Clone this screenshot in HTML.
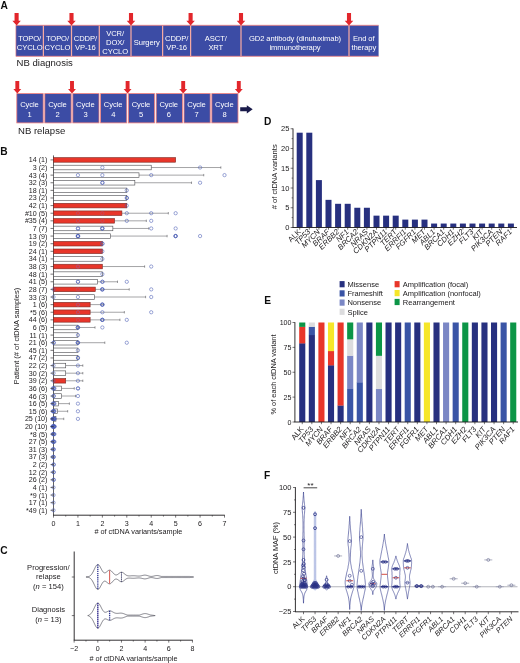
<!DOCTYPE html>
<html lang="en">
<head>
<meta charset="utf-8">
<title>ctDNA variants in neuroblastoma</title>
<style>
html,body{margin:0;padding:0;background:#ffffff;}
body{width:520px;height:663px;overflow:hidden;}
svg{display:block;font-family:"Liberation Sans",Arial,Helvetica,sans-serif;}
</style>
</head>
<body>
<svg width="520" height="663" viewBox="0 0 520 663">
<rect x="0" y="0" width="520" height="663" fill="#ffffff"/>
<g fill="#1c1a1c">
<text x="0.5" y="9.2" font-size="10.2" fill="#0d0d0d" font-weight="bold">A</text>
<text x="0.2" y="154.6" font-size="10.2" fill="#0d0d0d" font-weight="bold">B</text>
<text x="0.3" y="554.2" font-size="10.2" fill="#0d0d0d" font-weight="bold">C</text>
<text x="264.05" y="124.8" font-size="10.2" fill="#0d0d0d" font-weight="bold">D</text>
<text x="264.15" y="303.5" font-size="10.2" fill="#0d0d0d" font-weight="bold">E</text>
<text x="264.05" y="479.3" font-size="10.2" fill="#0d0d0d" font-weight="bold">F</text>
<rect x="15.9" y="25.3" width="362.7" height="31" fill="#3c4ca5"/>
<line x1="43.4" y1="25.3" x2="43.4" y2="56.3" stroke="#f6a9a2" stroke-width="1.25"/>
<line x1="71.5" y1="25.3" x2="71.5" y2="56.3" stroke="#f6a9a2" stroke-width="1.25"/>
<line x1="99.3" y1="25.3" x2="99.3" y2="56.3" stroke="#f6a9a2" stroke-width="1.25"/>
<line x1="131" y1="25.3" x2="131" y2="56.3" stroke="#f6a9a2" stroke-width="1.25"/>
<line x1="162.6" y1="25.3" x2="162.6" y2="56.3" stroke="#f6a9a2" stroke-width="1.25"/>
<line x1="190.6" y1="25.3" x2="190.6" y2="56.3" stroke="#f6a9a2" stroke-width="1.25"/>
<line x1="241" y1="25.3" x2="241" y2="56.3" stroke="#f6a9a2" stroke-width="1.25"/>
<line x1="349" y1="25.3" x2="349" y2="56.3" stroke="#f6a9a2" stroke-width="1.25"/>
<line x1="15.9" y1="25.3" x2="378.6" y2="25.3" stroke="#f3807c" stroke-width="0.8"/>
<line x1="15.9" y1="56.3" x2="378.6" y2="56.3" stroke="#f3807c" stroke-width="0.8"/>
<line x1="15.9" y1="25.3" x2="15.9" y2="56.3" stroke="#f3807c" stroke-width="0.6"/>
<text x="29.65" y="40.5" font-size="7.6" text-anchor="middle" fill="#ffffff" letter-spacing="-0.1">TOPO/</text>
<text x="29.65" y="49.5" font-size="7.6" text-anchor="middle" fill="#ffffff" letter-spacing="-0.1">CYCLO</text>
<text x="57.45" y="40.5" font-size="7.6" text-anchor="middle" fill="#ffffff" letter-spacing="-0.1">TOPO/</text>
<text x="57.45" y="49.5" font-size="7.6" text-anchor="middle" fill="#ffffff" letter-spacing="-0.1">CYCLO</text>
<text x="85.4" y="40.5" font-size="7.6" text-anchor="middle" fill="#ffffff" letter-spacing="-0.1">CDDP/</text>
<text x="85.4" y="49.5" font-size="7.6" text-anchor="middle" fill="#ffffff" letter-spacing="-0.1">VP-16</text>
<text x="115.15" y="36" font-size="7.6" text-anchor="middle" fill="#ffffff" letter-spacing="-0.1">VCR/</text>
<text x="115.15" y="45" font-size="7.6" text-anchor="middle" fill="#ffffff" letter-spacing="-0.1">DOX/</text>
<text x="115.15" y="54" font-size="7.6" text-anchor="middle" fill="#ffffff" letter-spacing="-0.1">CYCLO</text>
<text x="146.8" y="45" font-size="7.6" text-anchor="middle" fill="#ffffff" letter-spacing="-0.1">Surgery</text>
<text x="176.6" y="40.5" font-size="7.6" text-anchor="middle" fill="#ffffff" letter-spacing="-0.1">CDDP/</text>
<text x="176.6" y="49.5" font-size="7.6" text-anchor="middle" fill="#ffffff" letter-spacing="-0.1">VP-16</text>
<text x="215.8" y="40.5" font-size="7.6" text-anchor="middle" fill="#ffffff" letter-spacing="-0.1">ASCT/</text>
<text x="215.8" y="49.5" font-size="7.6" text-anchor="middle" fill="#ffffff" letter-spacing="-0.1">XRT</text>
<text x="295" y="40.5" font-size="7.6" text-anchor="middle" fill="#ffffff" letter-spacing="-0.1">GD2 antibody (dinutuximab)</text>
<text x="295" y="49.5" font-size="7.6" text-anchor="middle" fill="#ffffff" letter-spacing="-0.1">immunotherapy</text>
<text x="363.8" y="40.5" font-size="7.6" text-anchor="middle" fill="#ffffff" letter-spacing="-0.1">End of</text>
<text x="363.8" y="49.5" font-size="7.6" text-anchor="middle" fill="#ffffff" letter-spacing="-0.1">therapy</text>
<polygon points="14.55,13.1 18.65,13.1 18.65,20.7 20.85,20.7 16.6,25.4 12.35,20.7 14.55,20.7" fill="#e2262b"/>
<polygon points="69.45,13.1 73.55,13.1 73.55,20.7 75.75,20.7 71.5,25.4 67.25,20.7 69.45,20.7" fill="#e2262b"/>
<polygon points="128.95,13.1 133.05,13.1 133.05,20.7 135.25,20.7 131,25.4 126.75,20.7 128.95,20.7" fill="#e2262b"/>
<polygon points="188.55,13.1 192.65,13.1 192.65,20.7 194.85,20.7 190.6,25.4 186.35,20.7 188.55,20.7" fill="#e2262b"/>
<polygon points="238.95,13.1 243.05,13.1 243.05,20.7 245.25,20.7 241,25.4 236.75,20.7 238.95,20.7" fill="#e2262b"/>
<polygon points="346.95,13.1 351.05,13.1 351.05,20.7 353.25,20.7 349,25.4 344.75,20.7 346.95,20.7" fill="#e2262b"/>
<text x="16.6" y="66.2" font-size="9.55">NB diagnosis</text>
<rect x="16.8" y="93.6" width="26.4" height="29.3" fill="#3c4ca5" stroke="#f3807c" stroke-width="0.8"/>
<text x="29.4" y="107.4" font-size="7.6" text-anchor="middle" fill="#ffffff" letter-spacing="-0.1">Cycle</text>
<text x="29.6" y="117" font-size="7.6" text-anchor="middle" fill="#ffffff">1</text>
<rect x="44.8" y="93.6" width="26.4" height="29.3" fill="#3c4ca5" stroke="#f3807c" stroke-width="0.8"/>
<text x="57.4" y="107.4" font-size="7.6" text-anchor="middle" fill="#ffffff" letter-spacing="-0.1">Cycle</text>
<text x="57.6" y="117" font-size="7.6" text-anchor="middle" fill="#ffffff">2</text>
<rect x="72.8" y="93.6" width="26.2" height="29.3" fill="#3c4ca5" stroke="#f3807c" stroke-width="0.8"/>
<text x="85.3" y="107.4" font-size="7.6" text-anchor="middle" fill="#ffffff" letter-spacing="-0.1">Cycle</text>
<text x="85.5" y="117" font-size="7.6" text-anchor="middle" fill="#ffffff">3</text>
<rect x="100.6" y="93.6" width="26.2" height="29.3" fill="#3c4ca5" stroke="#f3807c" stroke-width="0.8"/>
<text x="113.1" y="107.4" font-size="7.6" text-anchor="middle" fill="#ffffff" letter-spacing="-0.1">Cycle</text>
<text x="113.3" y="117" font-size="7.6" text-anchor="middle" fill="#ffffff">4</text>
<rect x="128.4" y="93.6" width="26.2" height="29.3" fill="#3c4ca5" stroke="#f3807c" stroke-width="0.8"/>
<text x="140.9" y="107.4" font-size="7.6" text-anchor="middle" fill="#ffffff" letter-spacing="-0.1">Cycle</text>
<text x="141.1" y="117" font-size="7.6" text-anchor="middle" fill="#ffffff">5</text>
<rect x="156.2" y="93.6" width="26.2" height="29.3" fill="#3c4ca5" stroke="#f3807c" stroke-width="0.8"/>
<text x="168.7" y="107.4" font-size="7.6" text-anchor="middle" fill="#ffffff" letter-spacing="-0.1">Cycle</text>
<text x="168.9" y="117" font-size="7.6" text-anchor="middle" fill="#ffffff">6</text>
<rect x="184" y="93.6" width="26.2" height="29.3" fill="#3c4ca5" stroke="#f3807c" stroke-width="0.8"/>
<text x="196.5" y="107.4" font-size="7.6" text-anchor="middle" fill="#ffffff" letter-spacing="-0.1">Cycle</text>
<text x="196.7" y="117" font-size="7.6" text-anchor="middle" fill="#ffffff">7</text>
<rect x="211.8" y="93.6" width="26.2" height="29.3" fill="#3c4ca5" stroke="#f3807c" stroke-width="0.8"/>
<text x="224.3" y="107.4" font-size="7.6" text-anchor="middle" fill="#ffffff" letter-spacing="-0.1">Cycle</text>
<text x="224.5" y="117" font-size="7.6" text-anchor="middle" fill="#ffffff">8</text>
<polygon points="15.35,80.9 19.25,80.9 19.25,89.1 21.25,89.1 17.3,93.5 13.35,89.1 15.35,89.1" fill="#e2262b"/>
<polygon points="70.05,80.9 73.95,80.9 73.95,89.1 75.95,89.1 72,93.5 68.05,89.1 70.05,89.1" fill="#e2262b"/>
<polygon points="125.65,80.9 129.55,80.9 129.55,89.1 131.55,89.1 127.6,93.5 123.65,89.1 125.65,89.1" fill="#e2262b"/>
<polygon points="181.25,80.9 185.15,80.9 185.15,89.1 187.15,89.1 183.2,93.5 179.25,89.1 181.25,89.1" fill="#e2262b"/>
<polygon points="236.85,80.9 240.75,80.9 240.75,89.1 242.75,89.1 238.8,93.5 234.85,89.1 236.85,89.1" fill="#e2262b"/>
<polygon points="240.2,107.3 246.8,107.3 246.8,105.2 252.7,109.3 246.8,113.4 246.8,111.3 240.2,111.3" fill="#1a1b4b"/>
<text x="18" y="134.3" font-size="9.55">NB relapse</text>
<line x1="53.5" y1="155.4" x2="53.5" y2="515.2" stroke="#3a3a3e" stroke-width="0.8"/>
<line x1="151.22" y1="167.52" x2="220.85" y2="167.52" stroke="#4a4a4e" stroke-width="0.5"/>
<line x1="220.85" y1="166.32" x2="220.85" y2="168.72" stroke="#4a4a4e" stroke-width="0.55"/>
<line x1="139" y1="175.13" x2="203.74" y2="175.13" stroke="#4a4a4e" stroke-width="0.5"/>
<line x1="203.74" y1="173.93" x2="203.74" y2="176.33" stroke="#4a4a4e" stroke-width="0.55"/>
<line x1="134.85" y1="182.75" x2="191.53" y2="182.75" stroke="#4a4a4e" stroke-width="0.5"/>
<line x1="191.53" y1="181.55" x2="191.53" y2="183.95" stroke="#4a4a4e" stroke-width="0.55"/>
<line x1="121.9" y1="213.22" x2="168.32" y2="213.22" stroke="#4a4a4e" stroke-width="0.5"/>
<line x1="168.32" y1="212.02" x2="168.32" y2="214.42" stroke="#4a4a4e" stroke-width="0.55"/>
<line x1="114.58" y1="220.84" x2="146.33" y2="220.84" stroke="#4a4a4e" stroke-width="0.5"/>
<line x1="146.33" y1="219.64" x2="146.33" y2="222.04" stroke="#4a4a4e" stroke-width="0.55"/>
<line x1="112.86" y1="228.45" x2="148.78" y2="228.45" stroke="#4a4a4e" stroke-width="0.5"/>
<line x1="148.78" y1="227.25" x2="148.78" y2="229.65" stroke="#4a4a4e" stroke-width="0.55"/>
<line x1="110.42" y1="236.07" x2="167.1" y2="236.07" stroke="#4a4a4e" stroke-width="0.5"/>
<line x1="167.1" y1="234.87" x2="167.1" y2="237.27" stroke="#4a4a4e" stroke-width="0.55"/>
<line x1="102.36" y1="266.54" x2="144.62" y2="266.54" stroke="#4a4a4e" stroke-width="0.5"/>
<line x1="144.62" y1="265.34" x2="144.62" y2="267.74" stroke="#4a4a4e" stroke-width="0.55"/>
<line x1="97.47" y1="281.77" x2="117.51" y2="281.77" stroke="#4a4a4e" stroke-width="0.5"/>
<line x1="117.51" y1="280.57" x2="117.51" y2="282.97" stroke="#4a4a4e" stroke-width="0.55"/>
<line x1="95.28" y1="289.39" x2="129.23" y2="289.39" stroke="#4a4a4e" stroke-width="0.5"/>
<line x1="129.23" y1="288.19" x2="129.23" y2="290.59" stroke="#4a4a4e" stroke-width="0.55"/>
<line x1="94.3" y1="297.01" x2="145.6" y2="297.01" stroke="#4a4a4e" stroke-width="0.5"/>
<line x1="145.6" y1="295.81" x2="145.6" y2="298.21" stroke="#4a4a4e" stroke-width="0.55"/>
<line x1="90.14" y1="304.62" x2="103.58" y2="304.62" stroke="#4a4a4e" stroke-width="0.5"/>
<line x1="103.58" y1="303.42" x2="103.58" y2="305.82" stroke="#4a4a4e" stroke-width="0.55"/>
<line x1="90.14" y1="312.24" x2="124.35" y2="312.24" stroke="#4a4a4e" stroke-width="0.5"/>
<line x1="124.35" y1="311.04" x2="124.35" y2="313.44" stroke="#4a4a4e" stroke-width="0.55"/>
<line x1="90.14" y1="319.86" x2="119.95" y2="319.86" stroke="#4a4a4e" stroke-width="0.5"/>
<line x1="119.95" y1="318.66" x2="119.95" y2="321.06" stroke="#4a4a4e" stroke-width="0.55"/>
<line x1="77.93" y1="327.47" x2="95.03" y2="327.47" stroke="#4a4a4e" stroke-width="0.5"/>
<line x1="95.03" y1="326.27" x2="95.03" y2="328.67" stroke="#4a4a4e" stroke-width="0.55"/>
<line x1="77.93" y1="342.71" x2="104.8" y2="342.71" stroke="#4a4a4e" stroke-width="0.5"/>
<line x1="104.8" y1="341.51" x2="104.8" y2="343.91" stroke="#4a4a4e" stroke-width="0.55"/>
<line x1="65.72" y1="365.56" x2="82.82" y2="365.56" stroke="#4a4a4e" stroke-width="0.5"/>
<line x1="82.82" y1="364.36" x2="82.82" y2="366.76" stroke="#4a4a4e" stroke-width="0.55"/>
<line x1="65.72" y1="373.18" x2="82.82" y2="373.18" stroke="#4a4a4e" stroke-width="0.5"/>
<line x1="82.82" y1="371.98" x2="82.82" y2="374.38" stroke="#4a4a4e" stroke-width="0.55"/>
<line x1="65.72" y1="380.79" x2="82.82" y2="380.79" stroke="#4a4a4e" stroke-width="0.5"/>
<line x1="82.82" y1="379.59" x2="82.82" y2="381.99" stroke="#4a4a4e" stroke-width="0.55"/>
<line x1="61.56" y1="388.41" x2="74.27" y2="388.41" stroke="#4a4a4e" stroke-width="0.5"/>
<line x1="74.27" y1="387.21" x2="74.27" y2="389.61" stroke="#4a4a4e" stroke-width="0.55"/>
<line x1="61.56" y1="396.03" x2="75.49" y2="396.03" stroke="#4a4a4e" stroke-width="0.5"/>
<line x1="75.49" y1="394.83" x2="75.49" y2="397.23" stroke="#4a4a4e" stroke-width="0.55"/>
<line x1="58.39" y1="403.64" x2="69.38" y2="403.64" stroke="#4a4a4e" stroke-width="0.5"/>
<line x1="69.38" y1="402.44" x2="69.38" y2="404.84" stroke="#4a4a4e" stroke-width="0.55"/>
<line x1="57.65" y1="411.26" x2="67.67" y2="411.26" stroke="#4a4a4e" stroke-width="0.5"/>
<line x1="67.67" y1="410.06" x2="67.67" y2="412.46" stroke="#4a4a4e" stroke-width="0.55"/>
<line x1="55.94" y1="418.88" x2="63.76" y2="418.88" stroke="#4a4a4e" stroke-width="0.5"/>
<line x1="63.76" y1="417.68" x2="63.76" y2="420.08" stroke="#4a4a4e" stroke-width="0.55"/>
<rect x="53.5" y="157.6" width="122.15" height="4.6" fill="#e8362a" stroke="#7a2a24" stroke-width="0.6"/>
<rect x="53.5" y="165.22" width="97.72" height="4.6" fill="#ffffff" stroke="#4a4a4e" stroke-width="0.6"/>
<rect x="53.5" y="172.83" width="85.5" height="4.6" fill="#ffffff" stroke="#4a4a4e" stroke-width="0.6"/>
<rect x="53.5" y="180.45" width="81.35" height="4.6" fill="#ffffff" stroke="#4a4a4e" stroke-width="0.6"/>
<rect x="53.5" y="188.07" width="73.29" height="4.6" fill="#ffffff" stroke="#4a4a4e" stroke-width="0.6"/>
<rect x="53.5" y="195.69" width="73.29" height="4.6" fill="#ffffff" stroke="#4a4a4e" stroke-width="0.6"/>
<rect x="53.5" y="203.3" width="73.29" height="4.6" fill="#e8362a" stroke="#7a2a24" stroke-width="0.6"/>
<rect x="53.5" y="210.92" width="68.4" height="4.6" fill="#e8362a" stroke="#7a2a24" stroke-width="0.6"/>
<rect x="53.5" y="218.54" width="61.08" height="4.6" fill="#e8362a" stroke="#7a2a24" stroke-width="0.6"/>
<rect x="53.5" y="226.15" width="59.36" height="4.6" fill="#ffffff" stroke="#4a4a4e" stroke-width="0.6"/>
<rect x="53.5" y="233.77" width="56.92" height="4.6" fill="#ffffff" stroke="#4a4a4e" stroke-width="0.6"/>
<rect x="53.5" y="241.39" width="48.86" height="4.6" fill="#e8362a" stroke="#7a2a24" stroke-width="0.6"/>
<rect x="53.5" y="249" width="48.86" height="4.6" fill="#e8362a" stroke="#7a2a24" stroke-width="0.6"/>
<rect x="53.5" y="256.62" width="48.86" height="4.6" fill="#ffffff" stroke="#4a4a4e" stroke-width="0.6"/>
<rect x="53.5" y="264.24" width="48.86" height="4.6" fill="#e8362a" stroke="#7a2a24" stroke-width="0.6"/>
<rect x="53.5" y="271.85" width="48.86" height="4.6" fill="#ffffff" stroke="#4a4a4e" stroke-width="0.6"/>
<rect x="53.5" y="279.47" width="43.97" height="4.6" fill="#ffffff" stroke="#4a4a4e" stroke-width="0.6"/>
<rect x="53.5" y="287.09" width="41.78" height="4.6" fill="#e8362a" stroke="#7a2a24" stroke-width="0.6"/>
<rect x="53.5" y="294.71" width="40.8" height="4.6" fill="#ffffff" stroke="#4a4a4e" stroke-width="0.6"/>
<rect x="53.5" y="302.32" width="36.64" height="4.6" fill="#e8362a" stroke="#7a2a24" stroke-width="0.6"/>
<rect x="53.5" y="309.94" width="36.64" height="4.6" fill="#e8362a" stroke="#7a2a24" stroke-width="0.6"/>
<rect x="53.5" y="317.56" width="36.64" height="4.6" fill="#e8362a" stroke="#7a2a24" stroke-width="0.6"/>
<rect x="53.5" y="325.17" width="24.43" height="4.6" fill="#ffffff" stroke="#4a4a4e" stroke-width="0.6"/>
<rect x="53.5" y="332.79" width="24.43" height="4.6" fill="#ffffff" stroke="#4a4a4e" stroke-width="0.6"/>
<rect x="53.5" y="340.41" width="24.43" height="4.6" fill="#ffffff" stroke="#4a4a4e" stroke-width="0.6"/>
<rect x="53.5" y="348.03" width="24.43" height="4.6" fill="#ffffff" stroke="#4a4a4e" stroke-width="0.6"/>
<rect x="53.5" y="355.64" width="24.43" height="4.6" fill="#ffffff" stroke="#4a4a4e" stroke-width="0.6"/>
<rect x="53.5" y="363.26" width="12.21" height="4.6" fill="#ffffff" stroke="#4a4a4e" stroke-width="0.6"/>
<rect x="53.5" y="370.88" width="12.21" height="4.6" fill="#ffffff" stroke="#4a4a4e" stroke-width="0.6"/>
<rect x="53.5" y="378.49" width="12.21" height="4.6" fill="#e8362a" stroke="#7a2a24" stroke-width="0.6"/>
<rect x="53.5" y="386.11" width="8.06" height="4.6" fill="#ffffff" stroke="#4a4a4e" stroke-width="0.6"/>
<rect x="53.5" y="393.73" width="8.06" height="4.6" fill="#ffffff" stroke="#4a4a4e" stroke-width="0.6"/>
<rect x="53.5" y="401.34" width="4.89" height="4.6" fill="#ffffff" stroke="#4a4a4e" stroke-width="0.6"/>
<rect x="53.5" y="408.96" width="4.15" height="4.6" fill="#ffffff" stroke="#4a4a4e" stroke-width="0.6"/>
<rect x="53.5" y="416.58" width="2.44" height="4.6" fill="#ffffff" stroke="#4a4a4e" stroke-width="0.6"/>
<text x="47.4" y="162.4" font-size="7.1" text-anchor="end">14 (1)</text>
<line x1="50.5" y1="159.9" x2="53.5" y2="159.9" stroke="#1c1a1c" stroke-width="0.6"/>
<circle cx="102.36" cy="167.52" r="1.65" fill="none" stroke="#4a5cb4" stroke-width="0.55"/>
<circle cx="200.08" cy="167.52" r="1.65" fill="none" stroke="#4a5cb4" stroke-width="0.55"/>
<text x="47.4" y="170.02" font-size="7.1" text-anchor="end">3 (2)</text>
<line x1="50.5" y1="167.52" x2="53.5" y2="167.52" stroke="#1c1a1c" stroke-width="0.6"/>
<circle cx="77.93" cy="175.13" r="1.65" fill="none" stroke="#4a5cb4" stroke-width="0.55"/>
<circle cx="102.36" cy="175.13" r="1.65" fill="none" stroke="#4a5cb4" stroke-width="0.55"/>
<circle cx="151.22" cy="175.13" r="1.65" fill="none" stroke="#4a5cb4" stroke-width="0.55"/>
<circle cx="224.51" cy="175.13" r="1.65" fill="none" stroke="#4a5cb4" stroke-width="0.55"/>
<text x="47.4" y="177.63" font-size="7.1" text-anchor="end">43 (4)</text>
<line x1="50.5" y1="175.13" x2="53.5" y2="175.13" stroke="#1c1a1c" stroke-width="0.6"/>
<circle cx="102.36" cy="182.75" r="1.65" fill="none" stroke="#4a5cb4" stroke-width="0.55"/>
<circle cx="102.47" cy="182.75" r="1.65" fill="none" stroke="#4a5cb4" stroke-width="0.55"/>
<circle cx="200.08" cy="182.75" r="1.65" fill="none" stroke="#4a5cb4" stroke-width="0.55"/>
<text x="47.4" y="185.25" font-size="7.1" text-anchor="end">32 (3)</text>
<line x1="50.5" y1="182.75" x2="53.5" y2="182.75" stroke="#1c1a1c" stroke-width="0.6"/>
<circle cx="126.79" cy="190.37" r="1.65" fill="none" stroke="#4a5cb4" stroke-width="0.55"/>
<text x="47.4" y="192.87" font-size="7.1" text-anchor="end">18 (1)</text>
<line x1="50.5" y1="190.37" x2="53.5" y2="190.37" stroke="#1c1a1c" stroke-width="0.6"/>
<circle cx="126.79" cy="197.99" r="1.65" fill="none" stroke="#4a5cb4" stroke-width="0.55"/>
<circle cx="126.9" cy="197.99" r="1.65" fill="none" stroke="#4a5cb4" stroke-width="0.55"/>
<text x="47.4" y="200.49" font-size="7.1" text-anchor="end">23 (2)</text>
<line x1="50.5" y1="197.99" x2="53.5" y2="197.99" stroke="#1c1a1c" stroke-width="0.6"/>
<circle cx="126.79" cy="205.6" r="1.65" fill="none" stroke="#4a5cb4" stroke-width="0.55"/>
<text x="47.4" y="208.1" font-size="7.1" text-anchor="end">42 (1)</text>
<line x1="50.5" y1="205.6" x2="53.5" y2="205.6" stroke="#1c1a1c" stroke-width="0.6"/>
<circle cx="77.93" cy="213.22" r="1.65" fill="none" stroke="#b0507a" stroke-width="0.55"/>
<circle cx="102.36" cy="213.22" r="1.65" fill="none" stroke="#b0507a" stroke-width="0.55"/>
<circle cx="126.79" cy="213.22" r="1.65" fill="none" stroke="#4a5cb4" stroke-width="0.55"/>
<circle cx="151.22" cy="213.22" r="1.65" fill="none" stroke="#4a5cb4" stroke-width="0.55"/>
<circle cx="175.65" cy="213.22" r="1.65" fill="none" stroke="#4a5cb4" stroke-width="0.55"/>
<text x="47.4" y="215.72" font-size="7.1" text-anchor="end">#10 (5)</text>
<line x1="50.5" y1="213.22" x2="53.5" y2="213.22" stroke="#1c1a1c" stroke-width="0.6"/>
<circle cx="77.93" cy="220.84" r="1.65" fill="none" stroke="#b0507a" stroke-width="0.55"/>
<circle cx="102.36" cy="220.84" r="1.65" fill="none" stroke="#b0507a" stroke-width="0.55"/>
<circle cx="126.79" cy="220.84" r="1.65" fill="none" stroke="#4a5cb4" stroke-width="0.55"/>
<circle cx="151.22" cy="220.84" r="1.65" fill="none" stroke="#4a5cb4" stroke-width="0.55"/>
<text x="47.4" y="223.34" font-size="7.1" text-anchor="end">#35 (4)</text>
<line x1="50.5" y1="220.84" x2="53.5" y2="220.84" stroke="#1c1a1c" stroke-width="0.6"/>
<circle cx="77.93" cy="228.45" r="1.65" fill="none" stroke="#4a5cb4" stroke-width="0.55"/>
<circle cx="78.04" cy="228.45" r="1.65" fill="none" stroke="#4a5cb4" stroke-width="0.55"/>
<circle cx="102.36" cy="228.45" r="1.65" fill="none" stroke="#4a5cb4" stroke-width="0.55"/>
<circle cx="102.47" cy="228.45" r="1.65" fill="none" stroke="#4a5cb4" stroke-width="0.55"/>
<circle cx="102.12" cy="228.45" r="1.65" fill="none" stroke="#4a5cb4" stroke-width="0.55"/>
<circle cx="151.22" cy="228.45" r="1.65" fill="none" stroke="#4a5cb4" stroke-width="0.55"/>
<circle cx="175.65" cy="228.45" r="1.65" fill="none" stroke="#4a5cb4" stroke-width="0.55"/>
<text x="47.4" y="230.95" font-size="7.1" text-anchor="end">7 (7)</text>
<line x1="50.5" y1="228.45" x2="53.5" y2="228.45" stroke="#1c1a1c" stroke-width="0.6"/>
<circle cx="77.93" cy="236.07" r="1.65" fill="none" stroke="#4a5cb4" stroke-width="0.55"/>
<circle cx="78.04" cy="236.07" r="1.65" fill="none" stroke="#4a5cb4" stroke-width="0.55"/>
<circle cx="77.69" cy="236.07" r="1.65" fill="none" stroke="#4a5cb4" stroke-width="0.55"/>
<circle cx="78.25" cy="236.07" r="1.65" fill="none" stroke="#4a5cb4" stroke-width="0.55"/>
<circle cx="175.65" cy="236.07" r="1.65" fill="none" stroke="#4a5cb4" stroke-width="0.55"/>
<circle cx="175.76" cy="236.07" r="1.65" fill="none" stroke="#4a5cb4" stroke-width="0.55"/>
<circle cx="175.41" cy="236.07" r="1.65" fill="none" stroke="#4a5cb4" stroke-width="0.55"/>
<circle cx="200.08" cy="236.07" r="1.65" fill="none" stroke="#4a5cb4" stroke-width="0.55"/>
<text x="47.4" y="238.57" font-size="7.1" text-anchor="end">13 (9)</text>
<line x1="50.5" y1="236.07" x2="53.5" y2="236.07" stroke="#1c1a1c" stroke-width="0.6"/>
<circle cx="102.36" cy="243.69" r="1.65" fill="none" stroke="#4a5cb4" stroke-width="0.55"/>
<circle cx="102.47" cy="243.69" r="1.65" fill="none" stroke="#4a5cb4" stroke-width="0.55"/>
<text x="47.4" y="246.19" font-size="7.1" text-anchor="end">19 (2)</text>
<line x1="50.5" y1="243.69" x2="53.5" y2="243.69" stroke="#1c1a1c" stroke-width="0.6"/>
<circle cx="102.36" cy="251.3" r="1.65" fill="none" stroke="#4a5cb4" stroke-width="0.55"/>
<text x="47.4" y="253.8" font-size="7.1" text-anchor="end">24 (1)</text>
<line x1="50.5" y1="251.3" x2="53.5" y2="251.3" stroke="#1c1a1c" stroke-width="0.6"/>
<circle cx="102.36" cy="258.92" r="1.65" fill="none" stroke="#4a5cb4" stroke-width="0.55"/>
<text x="47.4" y="261.42" font-size="7.1" text-anchor="end">34 (1)</text>
<line x1="50.5" y1="258.92" x2="53.5" y2="258.92" stroke="#1c1a1c" stroke-width="0.6"/>
<circle cx="77.93" cy="266.54" r="1.65" fill="none" stroke="#b0507a" stroke-width="0.55"/>
<circle cx="78.04" cy="266.54" r="1.65" fill="none" stroke="#b0507a" stroke-width="0.55"/>
<circle cx="151.22" cy="266.54" r="1.65" fill="none" stroke="#4a5cb4" stroke-width="0.55"/>
<text x="47.4" y="269.04" font-size="7.1" text-anchor="end">38 (3)</text>
<line x1="50.5" y1="266.54" x2="53.5" y2="266.54" stroke="#1c1a1c" stroke-width="0.6"/>
<circle cx="102.36" cy="274.15" r="1.65" fill="none" stroke="#4a5cb4" stroke-width="0.55"/>
<text x="47.4" y="276.65" font-size="7.1" text-anchor="end">48 (1)</text>
<line x1="50.5" y1="274.15" x2="53.5" y2="274.15" stroke="#1c1a1c" stroke-width="0.6"/>
<circle cx="77.93" cy="281.77" r="1.65" fill="none" stroke="#4a5cb4" stroke-width="0.55"/>
<circle cx="78.04" cy="281.77" r="1.65" fill="none" stroke="#4a5cb4" stroke-width="0.55"/>
<circle cx="102.36" cy="281.77" r="1.65" fill="none" stroke="#4a5cb4" stroke-width="0.55"/>
<circle cx="102.47" cy="281.77" r="1.65" fill="none" stroke="#4a5cb4" stroke-width="0.55"/>
<circle cx="126.79" cy="281.77" r="1.65" fill="none" stroke="#4a5cb4" stroke-width="0.55"/>
<text x="47.4" y="284.27" font-size="7.1" text-anchor="end">41 (5)</text>
<line x1="50.5" y1="281.77" x2="53.5" y2="281.77" stroke="#1c1a1c" stroke-width="0.6"/>
<circle cx="53.5" cy="289.39" r="1.65" fill="none" stroke="#4a5cb4" stroke-width="0.55"/>
<circle cx="77.93" cy="289.39" r="1.65" fill="none" stroke="#b0507a" stroke-width="0.55"/>
<circle cx="102.36" cy="289.39" r="1.65" fill="none" stroke="#4a5cb4" stroke-width="0.55"/>
<circle cx="102.47" cy="289.39" r="1.65" fill="none" stroke="#4a5cb4" stroke-width="0.55"/>
<circle cx="102.12" cy="289.39" r="1.65" fill="none" stroke="#4a5cb4" stroke-width="0.55"/>
<circle cx="151.22" cy="289.39" r="1.65" fill="none" stroke="#4a5cb4" stroke-width="0.55"/>
<text x="47.4" y="291.89" font-size="7.1" text-anchor="end">28 (7)</text>
<line x1="50.5" y1="289.39" x2="53.5" y2="289.39" stroke="#1c1a1c" stroke-width="0.6"/>
<circle cx="53.5" cy="297.01" r="1.65" fill="none" stroke="#4a5cb4" stroke-width="0.55"/>
<circle cx="77.93" cy="297.01" r="1.65" fill="none" stroke="#4a5cb4" stroke-width="0.55"/>
<circle cx="151.22" cy="297.01" r="1.65" fill="none" stroke="#4a5cb4" stroke-width="0.55"/>
<text x="47.4" y="299.51" font-size="7.1" text-anchor="end">33 (3)</text>
<line x1="50.5" y1="297.01" x2="53.5" y2="297.01" stroke="#1c1a1c" stroke-width="0.6"/>
<circle cx="77.93" cy="304.62" r="1.65" fill="none" stroke="#b0507a" stroke-width="0.55"/>
<circle cx="78.04" cy="304.62" r="1.65" fill="none" stroke="#b0507a" stroke-width="0.55"/>
<circle cx="102.36" cy="304.62" r="1.65" fill="none" stroke="#4a5cb4" stroke-width="0.55"/>
<circle cx="102.47" cy="304.62" r="1.65" fill="none" stroke="#4a5cb4" stroke-width="0.55"/>
<circle cx="102.12" cy="304.62" r="1.65" fill="none" stroke="#4a5cb4" stroke-width="0.55"/>
<text x="47.4" y="307.12" font-size="7.1" text-anchor="end">1 (6)</text>
<line x1="50.5" y1="304.62" x2="53.5" y2="304.62" stroke="#1c1a1c" stroke-width="0.6"/>
<circle cx="77.93" cy="312.24" r="1.65" fill="none" stroke="#b0507a" stroke-width="0.55"/>
<circle cx="78.04" cy="312.24" r="1.65" fill="none" stroke="#b0507a" stroke-width="0.55"/>
<circle cx="102.36" cy="312.24" r="1.65" fill="none" stroke="#4a5cb4" stroke-width="0.55"/>
<circle cx="151.22" cy="312.24" r="1.65" fill="none" stroke="#4a5cb4" stroke-width="0.55"/>
<text x="47.4" y="314.74" font-size="7.1" text-anchor="end">*5 (6)</text>
<line x1="50.5" y1="312.24" x2="53.5" y2="312.24" stroke="#1c1a1c" stroke-width="0.6"/>
<circle cx="77.93" cy="319.86" r="1.65" fill="none" stroke="#b0507a" stroke-width="0.55"/>
<circle cx="102.36" cy="319.86" r="1.65" fill="none" stroke="#4a5cb4" stroke-width="0.55"/>
<circle cx="102.47" cy="319.86" r="1.65" fill="none" stroke="#4a5cb4" stroke-width="0.55"/>
<circle cx="102.12" cy="319.86" r="1.65" fill="none" stroke="#4a5cb4" stroke-width="0.55"/>
<circle cx="126.79" cy="319.86" r="1.65" fill="none" stroke="#4a5cb4" stroke-width="0.55"/>
<text x="47.4" y="322.36" font-size="7.1" text-anchor="end">44 (6)</text>
<line x1="50.5" y1="319.86" x2="53.5" y2="319.86" stroke="#1c1a1c" stroke-width="0.6"/>
<circle cx="77.93" cy="327.47" r="1.65" fill="none" stroke="#4a5cb4" stroke-width="0.55"/>
<circle cx="78.04" cy="327.47" r="1.65" fill="none" stroke="#4a5cb4" stroke-width="0.55"/>
<circle cx="77.69" cy="327.47" r="1.65" fill="none" stroke="#4a5cb4" stroke-width="0.55"/>
<circle cx="102.36" cy="327.47" r="1.65" fill="none" stroke="#4a5cb4" stroke-width="0.55"/>
<text x="47.4" y="329.97" font-size="7.1" text-anchor="end">6 (5)</text>
<line x1="50.5" y1="327.47" x2="53.5" y2="327.47" stroke="#1c1a1c" stroke-width="0.6"/>
<circle cx="77.93" cy="335.09" r="1.65" fill="none" stroke="#4a5cb4" stroke-width="0.55"/>
<text x="47.4" y="337.59" font-size="7.1" text-anchor="end">11 (1)</text>
<line x1="50.5" y1="335.09" x2="53.5" y2="335.09" stroke="#1c1a1c" stroke-width="0.6"/>
<circle cx="53.5" cy="342.71" r="1.65" fill="none" stroke="#4a5cb4" stroke-width="0.55"/>
<circle cx="53.81" cy="342.71" r="1.65" fill="none" stroke="#4a5cb4" stroke-width="0.55"/>
<circle cx="77.93" cy="342.71" r="1.65" fill="none" stroke="#4a5cb4" stroke-width="0.55"/>
<circle cx="78.04" cy="342.71" r="1.65" fill="none" stroke="#4a5cb4" stroke-width="0.55"/>
<circle cx="77.69" cy="342.71" r="1.65" fill="none" stroke="#4a5cb4" stroke-width="0.55"/>
<circle cx="126.79" cy="342.71" r="1.65" fill="none" stroke="#4a5cb4" stroke-width="0.55"/>
<text x="47.4" y="345.21" font-size="7.1" text-anchor="end">21 (6)</text>
<line x1="50.5" y1="342.71" x2="53.5" y2="342.71" stroke="#1c1a1c" stroke-width="0.6"/>
<circle cx="77.93" cy="350.33" r="1.65" fill="none" stroke="#4a5cb4" stroke-width="0.55"/>
<text x="47.4" y="352.83" font-size="7.1" text-anchor="end">45 (1)</text>
<line x1="50.5" y1="350.33" x2="53.5" y2="350.33" stroke="#1c1a1c" stroke-width="0.6"/>
<circle cx="77.93" cy="357.94" r="1.65" fill="none" stroke="#4a5cb4" stroke-width="0.55"/>
<circle cx="78.04" cy="357.94" r="1.65" fill="none" stroke="#4a5cb4" stroke-width="0.55"/>
<text x="47.4" y="360.44" font-size="7.1" text-anchor="end">47 (2)</text>
<line x1="50.5" y1="357.94" x2="53.5" y2="357.94" stroke="#1c1a1c" stroke-width="0.6"/>
<circle cx="53.5" cy="365.56" r="1.65" fill="none" stroke="#4a5cb4" stroke-width="0.55"/>
<circle cx="77.93" cy="365.56" r="1.65" fill="none" stroke="#4a5cb4" stroke-width="0.55"/>
<text x="47.4" y="368.06" font-size="7.1" text-anchor="end">22 (2)</text>
<line x1="50.5" y1="365.56" x2="53.5" y2="365.56" stroke="#1c1a1c" stroke-width="0.6"/>
<circle cx="53.5" cy="373.18" r="1.65" fill="none" stroke="#4a5cb4" stroke-width="0.55"/>
<circle cx="77.93" cy="373.18" r="1.65" fill="none" stroke="#4a5cb4" stroke-width="0.55"/>
<text x="47.4" y="375.68" font-size="7.1" text-anchor="end">30 (2)</text>
<line x1="50.5" y1="373.18" x2="53.5" y2="373.18" stroke="#1c1a1c" stroke-width="0.6"/>
<circle cx="53.5" cy="380.79" r="1.65" fill="none" stroke="#4a5cb4" stroke-width="0.55"/>
<circle cx="77.93" cy="380.79" r="1.65" fill="none" stroke="#4a5cb4" stroke-width="0.55"/>
<text x="47.4" y="383.29" font-size="7.1" text-anchor="end">39 (2)</text>
<line x1="50.5" y1="380.79" x2="53.5" y2="380.79" stroke="#1c1a1c" stroke-width="0.6"/>
<circle cx="53.5" cy="388.41" r="1.65" fill="none" stroke="#4a5cb4" stroke-width="0.55"/>
<circle cx="53.81" cy="388.41" r="1.65" fill="none" stroke="#4a5cb4" stroke-width="0.55"/>
<circle cx="52.81" cy="388.41" r="1.65" fill="none" stroke="#4a5cb4" stroke-width="0.55"/>
<circle cx="54.42" cy="388.41" r="1.65" fill="none" stroke="#4a5cb4" stroke-width="0.55"/>
<circle cx="77.93" cy="388.41" r="1.65" fill="none" stroke="#4a5cb4" stroke-width="0.55"/>
<circle cx="78.04" cy="388.41" r="1.65" fill="none" stroke="#4a5cb4" stroke-width="0.55"/>
<text x="47.4" y="390.91" font-size="7.1" text-anchor="end">36 (6)</text>
<line x1="50.5" y1="388.41" x2="53.5" y2="388.41" stroke="#1c1a1c" stroke-width="0.6"/>
<circle cx="53.5" cy="396.03" r="1.65" fill="none" stroke="#4a5cb4" stroke-width="0.55"/>
<circle cx="53.81" cy="396.03" r="1.65" fill="none" stroke="#4a5cb4" stroke-width="0.55"/>
<circle cx="77.93" cy="396.03" r="1.65" fill="none" stroke="#4a5cb4" stroke-width="0.55"/>
<text x="47.4" y="398.53" font-size="7.1" text-anchor="end">46 (3)</text>
<line x1="50.5" y1="396.03" x2="53.5" y2="396.03" stroke="#1c1a1c" stroke-width="0.6"/>
<circle cx="53.5" cy="403.64" r="1.65" fill="none" stroke="#4a5cb4" stroke-width="0.55"/>
<circle cx="53.81" cy="403.64" r="1.65" fill="none" stroke="#4a5cb4" stroke-width="0.55"/>
<circle cx="52.81" cy="403.64" r="1.65" fill="none" stroke="#4a5cb4" stroke-width="0.55"/>
<circle cx="54.42" cy="403.64" r="1.65" fill="none" stroke="#4a5cb4" stroke-width="0.55"/>
<circle cx="77.93" cy="403.64" r="1.65" fill="none" stroke="#4a5cb4" stroke-width="0.55"/>
<text x="47.4" y="406.14" font-size="7.1" text-anchor="end">16 (5)</text>
<line x1="50.5" y1="403.64" x2="53.5" y2="403.64" stroke="#1c1a1c" stroke-width="0.6"/>
<circle cx="53.5" cy="411.26" r="1.65" fill="none" stroke="#4a5cb4" stroke-width="0.55"/>
<circle cx="53.81" cy="411.26" r="1.65" fill="none" stroke="#4a5cb4" stroke-width="0.55"/>
<circle cx="52.81" cy="411.26" r="1.65" fill="none" stroke="#4a5cb4" stroke-width="0.55"/>
<circle cx="54.42" cy="411.26" r="1.65" fill="none" stroke="#4a5cb4" stroke-width="0.55"/>
<circle cx="53.43" cy="411.26" r="1.65" fill="none" stroke="#4a5cb4" stroke-width="0.55"/>
<circle cx="77.93" cy="411.26" r="1.65" fill="none" stroke="#4a5cb4" stroke-width="0.55"/>
<text x="47.4" y="413.76" font-size="7.1" text-anchor="end">15 (6)</text>
<line x1="50.5" y1="411.26" x2="53.5" y2="411.26" stroke="#1c1a1c" stroke-width="0.6"/>
<circle cx="53.5" cy="418.88" r="1.65" fill="none" stroke="#4a5cb4" stroke-width="0.55"/>
<circle cx="53.81" cy="418.88" r="1.65" fill="none" stroke="#4a5cb4" stroke-width="0.55"/>
<circle cx="52.81" cy="418.88" r="1.65" fill="none" stroke="#4a5cb4" stroke-width="0.55"/>
<circle cx="54.42" cy="418.88" r="1.65" fill="none" stroke="#4a5cb4" stroke-width="0.55"/>
<circle cx="53.43" cy="418.88" r="1.65" fill="none" stroke="#4a5cb4" stroke-width="0.55"/>
<circle cx="52.43" cy="418.88" r="1.65" fill="none" stroke="#4a5cb4" stroke-width="0.55"/>
<circle cx="54.04" cy="418.88" r="1.65" fill="none" stroke="#4a5cb4" stroke-width="0.55"/>
<circle cx="53.05" cy="418.88" r="1.65" fill="none" stroke="#4a5cb4" stroke-width="0.55"/>
<circle cx="54.65" cy="418.88" r="1.65" fill="none" stroke="#4a5cb4" stroke-width="0.55"/>
<circle cx="77.93" cy="418.88" r="1.65" fill="none" stroke="#4a5cb4" stroke-width="0.55"/>
<text x="47.4" y="421.38" font-size="7.1" text-anchor="end">25 (10)</text>
<line x1="50.5" y1="418.88" x2="53.5" y2="418.88" stroke="#1c1a1c" stroke-width="0.6"/>
<circle cx="53.5" cy="426.5" r="1.65" fill="none" stroke="#4a5cb4" stroke-width="0.55"/>
<circle cx="53.81" cy="426.5" r="1.65" fill="none" stroke="#4a5cb4" stroke-width="0.55"/>
<circle cx="52.81" cy="426.5" r="1.65" fill="none" stroke="#4a5cb4" stroke-width="0.55"/>
<circle cx="54.42" cy="426.5" r="1.65" fill="none" stroke="#4a5cb4" stroke-width="0.55"/>
<circle cx="53.43" cy="426.5" r="1.65" fill="none" stroke="#4a5cb4" stroke-width="0.55"/>
<circle cx="52.43" cy="426.5" r="1.65" fill="none" stroke="#4a5cb4" stroke-width="0.55"/>
<circle cx="54.04" cy="426.5" r="1.65" fill="none" stroke="#4a5cb4" stroke-width="0.55"/>
<circle cx="53.05" cy="426.5" r="1.65" fill="none" stroke="#4a5cb4" stroke-width="0.55"/>
<circle cx="54.65" cy="426.5" r="1.65" fill="none" stroke="#4a5cb4" stroke-width="0.55"/>
<circle cx="53.66" cy="426.5" r="1.65" fill="none" stroke="#4a5cb4" stroke-width="0.55"/>
<text x="47.4" y="429" font-size="7.1" text-anchor="end">20 (10)</text>
<line x1="50.5" y1="426.5" x2="53.5" y2="426.5" stroke="#1c1a1c" stroke-width="0.6"/>
<circle cx="53.5" cy="434.11" r="1.65" fill="none" stroke="#4a5cb4" stroke-width="0.55"/>
<circle cx="53.81" cy="434.11" r="1.65" fill="none" stroke="#4a5cb4" stroke-width="0.55"/>
<circle cx="52.81" cy="434.11" r="1.65" fill="none" stroke="#4a5cb4" stroke-width="0.55"/>
<circle cx="54.42" cy="434.11" r="1.65" fill="none" stroke="#4a5cb4" stroke-width="0.55"/>
<circle cx="53.43" cy="434.11" r="1.65" fill="none" stroke="#4a5cb4" stroke-width="0.55"/>
<text x="47.4" y="436.61" font-size="7.1" text-anchor="end">*8 (5)</text>
<line x1="50.5" y1="434.11" x2="53.5" y2="434.11" stroke="#1c1a1c" stroke-width="0.6"/>
<circle cx="53.5" cy="441.73" r="1.65" fill="none" stroke="#4a5cb4" stroke-width="0.55"/>
<circle cx="53.81" cy="441.73" r="1.65" fill="none" stroke="#4a5cb4" stroke-width="0.55"/>
<circle cx="52.81" cy="441.73" r="1.65" fill="none" stroke="#4a5cb4" stroke-width="0.55"/>
<circle cx="54.42" cy="441.73" r="1.65" fill="none" stroke="#4a5cb4" stroke-width="0.55"/>
<circle cx="53.43" cy="441.73" r="1.65" fill="none" stroke="#4a5cb4" stroke-width="0.55"/>
<text x="47.4" y="444.23" font-size="7.1" text-anchor="end">27 (5)</text>
<line x1="50.5" y1="441.73" x2="53.5" y2="441.73" stroke="#1c1a1c" stroke-width="0.6"/>
<circle cx="53.5" cy="449.35" r="1.65" fill="none" stroke="#4a5cb4" stroke-width="0.55"/>
<circle cx="53.81" cy="449.35" r="1.65" fill="none" stroke="#4a5cb4" stroke-width="0.55"/>
<circle cx="52.81" cy="449.35" r="1.65" fill="none" stroke="#4a5cb4" stroke-width="0.55"/>
<text x="47.4" y="451.85" font-size="7.1" text-anchor="end">31 (3)</text>
<line x1="50.5" y1="449.35" x2="53.5" y2="449.35" stroke="#1c1a1c" stroke-width="0.6"/>
<circle cx="53.5" cy="456.96" r="1.65" fill="none" stroke="#4a5cb4" stroke-width="0.55"/>
<circle cx="53.81" cy="456.96" r="1.65" fill="none" stroke="#4a5cb4" stroke-width="0.55"/>
<circle cx="52.81" cy="456.96" r="1.65" fill="none" stroke="#4a5cb4" stroke-width="0.55"/>
<text x="47.4" y="459.46" font-size="7.1" text-anchor="end">37 (3)</text>
<line x1="50.5" y1="456.96" x2="53.5" y2="456.96" stroke="#1c1a1c" stroke-width="0.6"/>
<circle cx="53.5" cy="464.58" r="1.65" fill="none" stroke="#4a5cb4" stroke-width="0.55"/>
<circle cx="53.81" cy="464.58" r="1.65" fill="none" stroke="#4a5cb4" stroke-width="0.55"/>
<text x="47.4" y="467.08" font-size="7.1" text-anchor="end">2 (2)</text>
<line x1="50.5" y1="464.58" x2="53.5" y2="464.58" stroke="#1c1a1c" stroke-width="0.6"/>
<circle cx="53.5" cy="472.2" r="1.65" fill="none" stroke="#4a5cb4" stroke-width="0.55"/>
<circle cx="53.81" cy="472.2" r="1.65" fill="none" stroke="#4a5cb4" stroke-width="0.55"/>
<text x="47.4" y="474.7" font-size="7.1" text-anchor="end">12 (2)</text>
<line x1="50.5" y1="472.2" x2="53.5" y2="472.2" stroke="#1c1a1c" stroke-width="0.6"/>
<circle cx="53.5" cy="479.81" r="1.65" fill="none" stroke="#4a5cb4" stroke-width="0.55"/>
<circle cx="53.81" cy="479.81" r="1.65" fill="none" stroke="#4a5cb4" stroke-width="0.55"/>
<text x="47.4" y="482.31" font-size="7.1" text-anchor="end">26 (2)</text>
<line x1="50.5" y1="479.81" x2="53.5" y2="479.81" stroke="#1c1a1c" stroke-width="0.6"/>
<circle cx="53.5" cy="487.43" r="1.65" fill="none" stroke="#4a5cb4" stroke-width="0.55"/>
<text x="47.4" y="489.93" font-size="7.1" text-anchor="end">4 (1)</text>
<line x1="50.5" y1="487.43" x2="53.5" y2="487.43" stroke="#1c1a1c" stroke-width="0.6"/>
<circle cx="53.5" cy="495.05" r="1.65" fill="none" stroke="#4a5cb4" stroke-width="0.55"/>
<text x="47.4" y="497.55" font-size="7.1" text-anchor="end">*9 (1)</text>
<line x1="50.5" y1="495.05" x2="53.5" y2="495.05" stroke="#1c1a1c" stroke-width="0.6"/>
<circle cx="53.5" cy="502.66" r="1.65" fill="none" stroke="#4a5cb4" stroke-width="0.55"/>
<text x="47.4" y="505.16" font-size="7.1" text-anchor="end">17 (1)</text>
<line x1="50.5" y1="502.66" x2="53.5" y2="502.66" stroke="#1c1a1c" stroke-width="0.6"/>
<circle cx="53.5" cy="510.28" r="1.65" fill="none" stroke="#4a5cb4" stroke-width="0.55"/>
<text x="47.4" y="512.78" font-size="7.1" text-anchor="end">*49 (1)</text>
<line x1="50.5" y1="510.28" x2="53.5" y2="510.28" stroke="#1c1a1c" stroke-width="0.6"/>
<line x1="53.05" y1="515.2" x2="224.81" y2="515.2" stroke="#1c1a1c" stroke-width="0.9"/>
<line x1="53.5" y1="515.2" x2="53.5" y2="517.6" stroke="#1c1a1c" stroke-width="0.6"/>
<text x="53.5" y="526.1" font-size="7.1" text-anchor="middle">0</text>
<line x1="65.72" y1="515.2" x2="65.72" y2="516.6" stroke="#1c1a1c" stroke-width="0.55"/>
<line x1="77.93" y1="515.2" x2="77.93" y2="517.6" stroke="#1c1a1c" stroke-width="0.6"/>
<text x="77.93" y="526.1" font-size="7.1" text-anchor="middle">1</text>
<line x1="90.15" y1="515.2" x2="90.15" y2="516.6" stroke="#1c1a1c" stroke-width="0.55"/>
<line x1="102.36" y1="515.2" x2="102.36" y2="517.6" stroke="#1c1a1c" stroke-width="0.6"/>
<text x="102.36" y="526.1" font-size="7.1" text-anchor="middle">2</text>
<line x1="114.58" y1="515.2" x2="114.58" y2="516.6" stroke="#1c1a1c" stroke-width="0.55"/>
<line x1="126.79" y1="515.2" x2="126.79" y2="517.6" stroke="#1c1a1c" stroke-width="0.6"/>
<text x="126.79" y="526.1" font-size="7.1" text-anchor="middle">3</text>
<line x1="139" y1="515.2" x2="139" y2="516.6" stroke="#1c1a1c" stroke-width="0.55"/>
<line x1="151.22" y1="515.2" x2="151.22" y2="517.6" stroke="#1c1a1c" stroke-width="0.6"/>
<text x="151.22" y="526.1" font-size="7.1" text-anchor="middle">4</text>
<line x1="163.44" y1="515.2" x2="163.44" y2="516.6" stroke="#1c1a1c" stroke-width="0.55"/>
<line x1="175.65" y1="515.2" x2="175.65" y2="517.6" stroke="#1c1a1c" stroke-width="0.6"/>
<text x="175.65" y="526.1" font-size="7.1" text-anchor="middle">5</text>
<line x1="187.87" y1="515.2" x2="187.87" y2="516.6" stroke="#1c1a1c" stroke-width="0.55"/>
<line x1="200.08" y1="515.2" x2="200.08" y2="517.6" stroke="#1c1a1c" stroke-width="0.6"/>
<text x="200.08" y="526.1" font-size="7.1" text-anchor="middle">6</text>
<line x1="212.29" y1="515.2" x2="212.29" y2="516.6" stroke="#1c1a1c" stroke-width="0.55"/>
<line x1="224.51" y1="515.2" x2="224.51" y2="517.6" stroke="#1c1a1c" stroke-width="0.6"/>
<text x="224.51" y="526.1" font-size="7.1" text-anchor="middle">7</text>
<text x="138.4" y="533.9" font-size="7.3" text-anchor="middle"># of ctDNA variants/sample</text>
<text x="19.2" y="336" font-size="7.5" text-anchor="middle" transform="rotate(-90 19.2 336)">Patient (# of ctDNA samples)</text>
<path d="M85.97,577 L86.51,576.97 L87.05,576.9 L87.59,576.8 L88.13,576.69 L88.67,576.54 L89.22,576.33 L89.76,576.04 L90.3,575.66 L90.84,575.17 L91.38,574.57 L91.92,573.83 L92.46,572.97 L93,571.99 L93.54,570.91 L94.08,569.77 L94.63,568.62 L95.17,567.51 L95.71,566.49 L96.25,565.64 L96.79,564.99 L97.33,564.6 L97.87,564.49 L98.41,564.66 L98.95,565.11 L99.49,565.78 L100.04,566.65 L100.58,567.63 L101.12,568.67 L101.66,569.7 L102.2,570.65 L102.74,571.47 L103.28,572.12 L103.82,572.58 L104.36,572.82 L104.9,572.86 L105.44,572.71 L105.99,572.41 L106.53,572.01 L107.07,571.54 L107.61,571.08 L108.15,570.67 L108.69,570.35 L109.23,570.18 L109.77,570.16 L110.31,570.31 L110.85,570.62 L111.4,571.07 L111.94,571.62 L112.48,572.23 L113.02,572.86 L113.56,573.46 L114.1,574 L114.64,574.43 L115.18,574.74 L115.72,574.92 L116.26,574.95 L116.81,574.85 L117.35,574.62 L117.89,574.29 L118.43,573.89 L118.97,573.47 L119.51,573.05 L120.05,572.68 L120.59,572.41 L121.13,572.25 L121.67,572.22 L122.21,572.33 L122.76,572.56 L123.3,572.9 L123.84,573.31 L124.38,573.75 L124.92,574.2 L125.46,574.62 L126,574.99 L126.54,575.3 L127.08,575.54 L127.62,575.72 L128.17,575.83 L128.71,575.89 L129.25,575.91 L129.79,575.9 L130.33,575.88 L130.87,575.85 L131.41,575.81 L131.95,575.78 L132.49,575.76 L133.03,575.75 L133.58,575.75 L134.12,575.76 L134.66,575.79 L135.2,575.82 L135.74,575.87 L136.28,575.92 L136.82,575.97 L137.36,576.01 L137.9,576.05 L138.44,576.07 L138.99,576.07 L139.53,576.04 L140.07,575.99 L140.61,575.91 L141.15,575.81 L141.69,575.69 L142.23,575.56 L142.77,575.42 L143.31,575.3 L143.85,575.21 L144.39,575.14 L144.94,575.12 L145.48,575.15 L146.02,575.22 L146.56,575.33 L147.1,575.48 L147.64,575.64 L148.18,575.82 L148.72,575.98 L149.26,576.14 L149.8,576.26 L150.35,576.35 L150.89,576.41 L151.43,576.42 L151.97,576.39 L152.51,576.32 L153.05,576.23 L153.59,576.11 L154.13,575.98 L154.67,575.85 L155.21,575.74 L155.76,575.64 L156.3,575.58 L156.84,575.55 L157.38,575.56 L157.92,575.61 L158.46,575.7 L159,575.82 L159.54,575.96 L160.08,576.1 L160.62,576.25 L161.16,576.39 L161.71,576.45 L162.25,576.45 L162.79,576.45 L163.33,576.45 L163.87,576.45 L164.41,576.45 L164.95,576.45 L165.49,576.45 L166.03,576.45 L166.57,576.45 L167.12,576.45 L167.66,576.45 L168.2,576.45 L168.74,576.45 L169.28,576.45 L169.82,576.45 L170.36,576.45 L170.9,576.45 L171.44,576.45 L171.98,576.45 L172.53,576.45 L173.07,576.45 L173.61,576.45 L174.15,576.45 L174.69,576.45 L175.23,576.45 L175.77,576.45 L176.31,576.45 L176.85,576.45 L177.39,576.45 L177.93,576.45 L178.48,576.45 L179.02,576.45 L179.56,576.45 L180.1,576.45 L180.64,576.45 L181.18,576.45 L181.72,576.45 L182.26,576.45 L182.8,576.45 L183.34,576.45 L183.89,576.45 L184.43,576.45 L184.97,576.45 L185.51,576.45 L186.05,576.45 L186.59,576.45 L187.13,576.45 L187.67,576.45 L188.21,576.45 L188.75,576.45 L189.3,576.45 L189.84,576.45 L190.38,576.5 L190.92,576.58 L191.46,576.66 L192,576.75 L192.54,576.83 L193.08,576.92 L193.62,577 L193.62,577 L193.08,577.08 L192.54,577.17 L192,577.25 L191.46,577.34 L190.92,577.42 L190.38,577.5 L189.84,577.55 L189.3,577.55 L188.75,577.55 L188.21,577.55 L187.67,577.55 L187.13,577.55 L186.59,577.55 L186.05,577.55 L185.51,577.55 L184.97,577.55 L184.43,577.55 L183.89,577.55 L183.34,577.55 L182.8,577.55 L182.26,577.55 L181.72,577.55 L181.18,577.55 L180.64,577.55 L180.1,577.55 L179.56,577.55 L179.02,577.55 L178.48,577.55 L177.93,577.55 L177.39,577.55 L176.85,577.55 L176.31,577.55 L175.77,577.55 L175.23,577.55 L174.69,577.55 L174.15,577.55 L173.61,577.55 L173.07,577.55 L172.53,577.55 L171.98,577.55 L171.44,577.55 L170.9,577.55 L170.36,577.55 L169.82,577.55 L169.28,577.55 L168.74,577.55 L168.2,577.55 L167.66,577.55 L167.12,577.55 L166.57,577.55 L166.03,577.55 L165.49,577.55 L164.95,577.55 L164.41,577.55 L163.87,577.55 L163.33,577.55 L162.79,577.55 L162.25,577.55 L161.71,577.55 L161.16,577.61 L160.62,577.75 L160.08,577.9 L159.54,578.04 L159,578.18 L158.46,578.3 L157.92,578.39 L157.38,578.44 L156.84,578.45 L156.3,578.42 L155.76,578.36 L155.21,578.26 L154.67,578.15 L154.13,578.02 L153.59,577.89 L153.05,577.77 L152.51,577.68 L151.97,577.61 L151.43,577.58 L150.89,577.59 L150.35,577.65 L149.8,577.74 L149.26,577.86 L148.72,578.02 L148.18,578.18 L147.64,578.36 L147.1,578.52 L146.56,578.67 L146.02,578.78 L145.48,578.85 L144.94,578.88 L144.39,578.86 L143.85,578.79 L143.31,578.7 L142.77,578.58 L142.23,578.44 L141.69,578.31 L141.15,578.19 L140.61,578.09 L140.07,578.01 L139.53,577.96 L138.99,577.93 L138.44,577.93 L137.9,577.95 L137.36,577.99 L136.82,578.03 L136.28,578.08 L135.74,578.13 L135.2,578.18 L134.66,578.21 L134.12,578.24 L133.58,578.25 L133.03,578.25 L132.49,578.24 L131.95,578.22 L131.41,578.19 L130.87,578.15 L130.33,578.12 L129.79,578.1 L129.25,578.09 L128.71,578.11 L128.17,578.17 L127.62,578.28 L127.08,578.46 L126.54,578.7 L126,579.01 L125.46,579.38 L124.92,579.8 L124.38,580.25 L123.84,580.69 L123.3,581.1 L122.76,581.44 L122.21,581.67 L121.67,581.78 L121.13,581.75 L120.59,581.59 L120.05,581.32 L119.51,580.95 L118.97,580.53 L118.43,580.11 L117.89,579.71 L117.35,579.38 L116.81,579.15 L116.26,579.05 L115.72,579.08 L115.18,579.26 L114.64,579.57 L114.1,580 L113.56,580.54 L113.02,581.14 L112.48,581.77 L111.94,582.38 L111.4,582.93 L110.85,583.38 L110.31,583.69 L109.77,583.84 L109.23,583.82 L108.69,583.65 L108.15,583.33 L107.61,582.92 L107.07,582.46 L106.53,581.99 L105.99,581.59 L105.44,581.29 L104.9,581.14 L104.36,581.18 L103.82,581.42 L103.28,581.88 L102.74,582.53 L102.2,583.35 L101.66,584.3 L101.12,585.33 L100.58,586.37 L100.04,587.35 L99.49,588.22 L98.95,588.89 L98.41,589.34 L97.87,589.51 L97.33,589.4 L96.79,589.01 L96.25,588.36 L95.71,587.51 L95.17,586.49 L94.63,585.38 L94.08,584.23 L93.54,583.09 L93,582.01 L92.46,581.03 L91.92,580.17 L91.38,579.43 L90.84,578.83 L90.3,578.34 L89.76,577.96 L89.22,577.67 L88.67,577.46 L88.13,577.31 L87.59,577.2 L87.05,577.1 L86.51,577.03 L85.97,577Z" fill="#ffffff" stroke="#333340" stroke-width="0.6" stroke-linejoin="round"/>
<path d="M87.74,615.6 L88.08,615.53 L88.42,615.42 L88.76,615.25 L89.1,615 L89.44,614.81 L89.78,614.62 L90.12,614.39 L90.46,614.12 L90.79,613.8 L91.13,613.44 L91.47,613.03 L91.81,612.57 L92.15,612.05 L92.49,611.49 L92.83,610.88 L93.17,610.23 L93.5,609.54 L93.84,608.83 L94.18,608.1 L94.52,607.38 L94.86,606.66 L95.2,605.97 L95.54,605.32 L95.88,604.72 L96.22,604.19 L96.55,603.75 L96.89,603.4 L97.23,603.16 L97.57,603.02 L97.91,603 L98.25,603.09 L98.59,603.29 L98.93,603.59 L99.27,604 L99.6,604.48 L99.94,605.04 L100.28,605.65 L100.62,606.3 L100.96,606.97 L101.3,607.65 L101.64,608.33 L101.98,608.98 L102.32,609.59 L102.65,610.15 L102.99,610.66 L103.33,611.11 L103.67,611.48 L104.01,611.78 L104.35,612.01 L104.69,612.17 L105.03,612.26 L105.36,612.29 L105.7,612.26 L106.04,612.19 L106.38,612.07 L106.72,611.93 L107.06,611.76 L107.4,611.59 L107.74,611.41 L108.08,611.25 L108.41,611.1 L108.75,610.98 L109.09,610.89 L109.43,610.84 L109.77,610.82 L110.11,610.84 L110.45,610.89 L110.79,610.98 L111.13,611.11 L111.46,611.26 L111.8,611.42 L112.14,611.61 L112.48,611.8 L112.82,612 L113.16,612.19 L113.5,612.38 L113.84,612.55 L114.17,612.72 L114.51,612.86 L114.85,612.99 L115.19,613.1 L115.53,613.19 L115.87,613.26 L116.21,613.31 L116.55,613.35 L116.89,613.37 L117.22,613.37 L117.56,613.37 L117.9,613.35 L118.24,613.32 L118.58,613.29 L118.92,613.26 L119.26,613.23 L119.6,613.19 L119.94,613.17 L120.27,613.15 L120.61,613.14 L120.95,613.14 L121.29,613.16 L121.63,613.19 L121.97,613.23 L122.31,613.3 L122.65,613.37 L122.98,613.46 L123.32,613.57 L123.66,613.68 L124,613.8 L124.34,613.93 L124.68,614.07 L125.02,614.2 L125.36,614.34 L125.7,614.47 L126.03,614.6 L126.37,614.72 L126.71,614.83 L127.05,614.93 L127.39,615.03 L127.73,615.1 L128.07,615.1 L128.41,615.1 L128.75,615.1 L129.08,615.1 L129.42,615.1 L129.76,615.1 L130.1,615.1 L130.44,615.1 L130.78,615.1 L131.12,615.1 L131.46,615.1 L131.79,615.1 L132.13,615.1 L132.47,615.1 L132.81,615.1 L133.15,615.1 L133.49,615.1 L133.83,615.1 L134.17,615.1 L134.51,615.1 L134.84,615.1 L135.18,615.1 L135.52,615.1 L135.86,615.1 L136.2,615.1 L136.54,615.1 L136.88,615.1 L137.22,615.1 L137.56,615.1 L137.89,615.1 L138.23,615.1 L138.57,615.1 L138.91,615.1 L139.25,615.09 L139.59,615.01 L139.93,614.91 L140.27,614.82 L140.6,614.71 L140.94,614.6 L141.28,614.49 L141.62,614.37 L141.96,614.25 L142.3,614.14 L142.64,614.03 L142.98,613.93 L143.32,613.84 L143.65,613.76 L143.99,613.7 L144.33,613.65 L144.67,613.62 L145.01,613.6 L145.35,613.6 L145.69,613.63 L146.03,613.66 L146.37,613.72 L146.7,613.79 L147.04,613.87 L147.38,613.97 L147.72,614.07 L148.06,614.18 L148.4,614.29 L148.74,614.41 L149.08,614.53 L149.42,614.64 L149.75,614.75 L150.09,614.85 L150.43,614.95 L150.77,615.04 L151.11,615.1 L151.45,615.1 L151.79,615.12 L152.13,615.17 L152.46,615.22 L152.8,615.27 L153.14,615.31 L153.48,615.36 L153.82,615.41 L154.16,615.46 L154.5,615.5 L154.84,615.55 L155.18,615.6 L155.18,615.6 L154.84,615.65 L154.5,615.7 L154.16,615.74 L153.82,615.79 L153.48,615.84 L153.14,615.89 L152.8,615.93 L152.46,615.98 L152.13,616.03 L151.79,616.08 L151.45,616.1 L151.11,616.1 L150.77,616.16 L150.43,616.25 L150.09,616.35 L149.75,616.45 L149.42,616.56 L149.08,616.67 L148.74,616.79 L148.4,616.91 L148.06,617.02 L147.72,617.13 L147.38,617.23 L147.04,617.33 L146.7,617.41 L146.37,617.48 L146.03,617.54 L145.69,617.57 L145.35,617.6 L145.01,617.6 L144.67,617.58 L144.33,617.55 L143.99,617.5 L143.65,617.44 L143.32,617.36 L142.98,617.27 L142.64,617.17 L142.3,617.06 L141.96,616.95 L141.62,616.83 L141.28,616.71 L140.94,616.6 L140.6,616.49 L140.27,616.38 L139.93,616.29 L139.59,616.19 L139.25,616.11 L138.91,616.1 L138.57,616.1 L138.23,616.1 L137.89,616.1 L137.56,616.1 L137.22,616.1 L136.88,616.1 L136.54,616.1 L136.2,616.1 L135.86,616.1 L135.52,616.1 L135.18,616.1 L134.84,616.1 L134.51,616.1 L134.17,616.1 L133.83,616.1 L133.49,616.1 L133.15,616.1 L132.81,616.1 L132.47,616.1 L132.13,616.1 L131.79,616.1 L131.46,616.1 L131.12,616.1 L130.78,616.1 L130.44,616.1 L130.1,616.1 L129.76,616.1 L129.42,616.1 L129.08,616.1 L128.75,616.1 L128.41,616.1 L128.07,616.1 L127.73,616.1 L127.39,616.17 L127.05,616.27 L126.71,616.37 L126.37,616.48 L126.03,616.6 L125.7,616.73 L125.36,616.86 L125.02,617 L124.68,617.13 L124.34,617.27 L124,617.4 L123.66,617.52 L123.32,617.63 L122.98,617.74 L122.65,617.83 L122.31,617.9 L121.97,617.97 L121.63,618.01 L121.29,618.04 L120.95,618.06 L120.61,618.06 L120.27,618.05 L119.94,618.03 L119.6,618.01 L119.26,617.97 L118.92,617.94 L118.58,617.91 L118.24,617.88 L117.9,617.85 L117.56,617.83 L117.22,617.83 L116.89,617.83 L116.55,617.85 L116.21,617.89 L115.87,617.94 L115.53,618.01 L115.19,618.1 L114.85,618.21 L114.51,618.34 L114.17,618.48 L113.84,618.65 L113.5,618.82 L113.16,619.01 L112.82,619.2 L112.48,619.4 L112.14,619.59 L111.8,619.78 L111.46,619.94 L111.13,620.09 L110.79,620.22 L110.45,620.31 L110.11,620.36 L109.77,620.38 L109.43,620.36 L109.09,620.31 L108.75,620.22 L108.41,620.1 L108.08,619.95 L107.74,619.79 L107.4,619.61 L107.06,619.44 L106.72,619.27 L106.38,619.13 L106.04,619.01 L105.7,618.94 L105.36,618.91 L105.03,618.94 L104.69,619.03 L104.35,619.19 L104.01,619.42 L103.67,619.72 L103.33,620.09 L102.99,620.54 L102.65,621.05 L102.32,621.61 L101.98,622.22 L101.64,622.87 L101.3,623.55 L100.96,624.23 L100.62,624.9 L100.28,625.55 L99.94,626.16 L99.6,626.72 L99.27,627.2 L98.93,627.61 L98.59,627.91 L98.25,628.11 L97.91,628.2 L97.57,628.18 L97.23,628.04 L96.89,627.8 L96.55,627.45 L96.22,627.01 L95.88,626.48 L95.54,625.88 L95.2,625.23 L94.86,624.54 L94.52,623.82 L94.18,623.1 L93.84,622.37 L93.5,621.66 L93.17,620.97 L92.83,620.32 L92.49,619.71 L92.15,619.15 L91.81,618.63 L91.47,618.17 L91.13,617.76 L90.79,617.4 L90.46,617.08 L90.12,616.81 L89.78,616.58 L89.44,616.39 L89.1,616.2 L88.76,615.95 L88.42,615.78 L88.08,615.67 L87.74,615.6Z" fill="#ffffff" stroke="#333340" stroke-width="0.6" stroke-linejoin="round"/>
<line x1="97.8" y1="564.5" x2="97.8" y2="589.5" stroke="#2f3690" stroke-width="1.3" stroke-dasharray="1.3 0.8"/>
<line x1="109.63" y1="570.37" x2="109.63" y2="583.63" stroke="#d4443a" stroke-width="0.9"/>
<line x1="121.46" y1="572.23" x2="121.46" y2="581.77" stroke="#30325e" stroke-width="1.0" stroke-dasharray="1.3 0.8"/>
<line x1="97.8" y1="603" x2="97.8" y2="628.2" stroke="#3b3392" stroke-width="1.4" stroke-dasharray="1.5 0.5"/>
<line x1="109.63" y1="610.83" x2="109.63" y2="620.37" stroke="#2f3690" stroke-width="1.3" stroke-dasharray="1.3 0.8"/>
<line x1="74.2" y1="551.5" x2="74.2" y2="640.2" stroke="#1c1a1c" stroke-width="0.9"/>
<line x1="73.75" y1="640.2" x2="192.74" y2="640.2" stroke="#1c1a1c" stroke-width="0.9"/>
<line x1="71.8" y1="577" x2="74.2" y2="577" stroke="#1c1a1c" stroke-width="0.6"/>
<line x1="71.8" y1="615.6" x2="74.2" y2="615.6" stroke="#1c1a1c" stroke-width="0.6"/>
<line x1="74.14" y1="640.2" x2="74.14" y2="642.6" stroke="#1c1a1c" stroke-width="0.6"/>
<text x="74.14" y="651.4" font-size="7.1" text-anchor="middle">−2</text>
<line x1="85.97" y1="640.2" x2="85.97" y2="641.6" stroke="#1c1a1c" stroke-width="0.55"/>
<line x1="97.8" y1="640.2" x2="97.8" y2="642.6" stroke="#1c1a1c" stroke-width="0.6"/>
<text x="97.8" y="651.4" font-size="7.1" text-anchor="middle">0</text>
<line x1="109.63" y1="640.2" x2="109.63" y2="641.6" stroke="#1c1a1c" stroke-width="0.55"/>
<line x1="121.46" y1="640.2" x2="121.46" y2="642.6" stroke="#1c1a1c" stroke-width="0.6"/>
<text x="121.46" y="651.4" font-size="7.1" text-anchor="middle">2</text>
<line x1="133.29" y1="640.2" x2="133.29" y2="641.6" stroke="#1c1a1c" stroke-width="0.55"/>
<line x1="145.12" y1="640.2" x2="145.12" y2="642.6" stroke="#1c1a1c" stroke-width="0.6"/>
<text x="145.12" y="651.4" font-size="7.1" text-anchor="middle">4</text>
<line x1="156.95" y1="640.2" x2="156.95" y2="641.6" stroke="#1c1a1c" stroke-width="0.55"/>
<line x1="168.78" y1="640.2" x2="168.78" y2="642.6" stroke="#1c1a1c" stroke-width="0.6"/>
<text x="168.78" y="651.4" font-size="7.1" text-anchor="middle">6</text>
<line x1="180.61" y1="640.2" x2="180.61" y2="641.6" stroke="#1c1a1c" stroke-width="0.55"/>
<line x1="192.44" y1="640.2" x2="192.44" y2="642.6" stroke="#1c1a1c" stroke-width="0.6"/>
<text x="192.44" y="651.4" font-size="7.1" text-anchor="middle">8</text>
<text x="133.5" y="660.6" font-size="7.3" text-anchor="middle"># of ctDNA variants/sample</text>
<text x="48.4" y="570" font-size="7.6" text-anchor="middle">Progression/</text>
<text x="48.4" y="579.4" font-size="7.6" text-anchor="middle">relapse</text>
<text x="48.4" y="588.6" font-size="7.6" text-anchor="middle">(<tspan font-style="italic">n</tspan> = 154)</text>
<text x="48.4" y="612.4" font-size="7.6" text-anchor="middle">Diagnosis</text>
<text x="48.4" y="621.9" font-size="7.6" text-anchor="middle">(<tspan font-style="italic">n</tspan> = 13)</text>
<rect x="296.7" y="132.7" width="6" height="94.8" fill="#27307f"/>
<line x1="299.7" y1="227.5" x2="299.7" y2="229.7" stroke="#1c1a1c" stroke-width="0.6"/>
<text x="301.3" y="232.3" font-size="7.7" text-anchor="end" transform="rotate(-45 301.3 232.3)">ALK</text>
<rect x="306.3" y="132.7" width="6" height="94.8" fill="#27307f"/>
<line x1="309.3" y1="227.5" x2="309.3" y2="229.7" stroke="#1c1a1c" stroke-width="0.6"/>
<text x="310.9" y="232.3" font-size="7.7" text-anchor="end" font-style="italic" transform="rotate(-45 310.9 232.3)">TP53</text>
<rect x="315.9" y="180.1" width="6" height="47.4" fill="#27307f"/>
<line x1="318.9" y1="227.5" x2="318.9" y2="229.7" stroke="#1c1a1c" stroke-width="0.6"/>
<text x="320.5" y="232.3" font-size="7.7" text-anchor="end" font-style="italic" transform="rotate(-45 320.5 232.3)">MYCN</text>
<rect x="325.5" y="199.85" width="6" height="27.65" fill="#27307f"/>
<line x1="328.5" y1="227.5" x2="328.5" y2="229.7" stroke="#1c1a1c" stroke-width="0.6"/>
<text x="330.1" y="232.3" font-size="7.7" text-anchor="end" font-style="italic" transform="rotate(-45 330.1 232.3)">BRAF</text>
<rect x="335.1" y="203.8" width="6" height="23.7" fill="#27307f"/>
<line x1="338.1" y1="227.5" x2="338.1" y2="229.7" stroke="#1c1a1c" stroke-width="0.6"/>
<text x="339.7" y="232.3" font-size="7.7" text-anchor="end" font-style="italic" transform="rotate(-45 339.7 232.3)">ERBB2</text>
<rect x="344.7" y="203.8" width="6" height="23.7" fill="#27307f"/>
<line x1="347.7" y1="227.5" x2="347.7" y2="229.7" stroke="#1c1a1c" stroke-width="0.6"/>
<text x="349.3" y="232.3" font-size="7.7" text-anchor="end" font-style="italic" transform="rotate(-45 349.3 232.3)">NF1</text>
<rect x="354.3" y="207.75" width="6" height="19.75" fill="#27307f"/>
<line x1="357.3" y1="227.5" x2="357.3" y2="229.7" stroke="#1c1a1c" stroke-width="0.6"/>
<text x="358.9" y="232.3" font-size="7.7" text-anchor="end" font-style="italic" transform="rotate(-45 358.9 232.3)">BRCA2</text>
<rect x="363.9" y="207.75" width="6" height="19.75" fill="#27307f"/>
<line x1="366.9" y1="227.5" x2="366.9" y2="229.7" stroke="#1c1a1c" stroke-width="0.6"/>
<text x="368.5" y="232.3" font-size="7.7" text-anchor="end" font-style="italic" transform="rotate(-45 368.5 232.3)">NRAS</text>
<rect x="373.5" y="215.65" width="6" height="11.85" fill="#27307f"/>
<line x1="376.5" y1="227.5" x2="376.5" y2="229.7" stroke="#1c1a1c" stroke-width="0.6"/>
<text x="378.1" y="232.3" font-size="7.7" text-anchor="end" font-style="italic" transform="rotate(-45 378.1 232.3)">CDKN2A</text>
<rect x="383.1" y="215.65" width="6" height="11.85" fill="#27307f"/>
<line x1="386.1" y1="227.5" x2="386.1" y2="229.7" stroke="#1c1a1c" stroke-width="0.6"/>
<text x="387.7" y="232.3" font-size="7.7" text-anchor="end" font-style="italic" transform="rotate(-45 387.7 232.3)">PTPN11</text>
<rect x="392.7" y="215.65" width="6" height="11.85" fill="#27307f"/>
<line x1="395.7" y1="227.5" x2="395.7" y2="229.7" stroke="#1c1a1c" stroke-width="0.6"/>
<text x="397.3" y="232.3" font-size="7.7" text-anchor="end" font-style="italic" transform="rotate(-45 397.3 232.3)">TERT</text>
<rect x="402.3" y="219.6" width="6" height="7.9" fill="#27307f"/>
<line x1="405.3" y1="227.5" x2="405.3" y2="229.7" stroke="#1c1a1c" stroke-width="0.6"/>
<text x="406.9" y="232.3" font-size="7.7" text-anchor="end" font-style="italic" transform="rotate(-45 406.9 232.3)">ERRFI1</text>
<rect x="411.9" y="219.6" width="6" height="7.9" fill="#27307f"/>
<line x1="414.9" y1="227.5" x2="414.9" y2="229.7" stroke="#1c1a1c" stroke-width="0.6"/>
<text x="416.5" y="232.3" font-size="7.7" text-anchor="end" font-style="italic" transform="rotate(-45 416.5 232.3)">FGFR1</text>
<rect x="421.5" y="219.6" width="6" height="7.9" fill="#27307f"/>
<line x1="424.5" y1="227.5" x2="424.5" y2="229.7" stroke="#1c1a1c" stroke-width="0.6"/>
<text x="426.1" y="232.3" font-size="7.7" text-anchor="end" font-style="italic" transform="rotate(-45 426.1 232.3)">MET</text>
<rect x="431.1" y="223.55" width="6" height="3.95" fill="#27307f"/>
<line x1="434.1" y1="227.5" x2="434.1" y2="229.7" stroke="#1c1a1c" stroke-width="0.6"/>
<text x="435.7" y="232.3" font-size="7.7" text-anchor="end" font-style="italic" transform="rotate(-45 435.7 232.3)">ABL1</text>
<rect x="440.7" y="223.55" width="6" height="3.95" fill="#27307f"/>
<line x1="443.7" y1="227.5" x2="443.7" y2="229.7" stroke="#1c1a1c" stroke-width="0.6"/>
<text x="445.3" y="232.3" font-size="7.7" text-anchor="end" font-style="italic" transform="rotate(-45 445.3 232.3)">BRCA1</text>
<rect x="450.3" y="223.55" width="6" height="3.95" fill="#27307f"/>
<line x1="453.3" y1="227.5" x2="453.3" y2="229.7" stroke="#1c1a1c" stroke-width="0.6"/>
<text x="454.9" y="232.3" font-size="7.7" text-anchor="end" font-style="italic" transform="rotate(-45 454.9 232.3)">CDH1</text>
<rect x="459.9" y="223.55" width="6" height="3.95" fill="#27307f"/>
<line x1="462.9" y1="227.5" x2="462.9" y2="229.7" stroke="#1c1a1c" stroke-width="0.6"/>
<text x="464.5" y="232.3" font-size="7.7" text-anchor="end" font-style="italic" transform="rotate(-45 464.5 232.3)">EZH2</text>
<rect x="469.5" y="223.55" width="6" height="3.95" fill="#27307f"/>
<line x1="472.5" y1="227.5" x2="472.5" y2="229.7" stroke="#1c1a1c" stroke-width="0.6"/>
<text x="474.1" y="232.3" font-size="7.7" text-anchor="end" font-style="italic" transform="rotate(-45 474.1 232.3)">FLT3</text>
<rect x="479.1" y="223.55" width="6" height="3.95" fill="#27307f"/>
<line x1="482.1" y1="227.5" x2="482.1" y2="229.7" stroke="#1c1a1c" stroke-width="0.6"/>
<text x="483.7" y="232.3" font-size="7.7" text-anchor="end" font-style="italic" transform="rotate(-45 483.7 232.3)">KIT</text>
<rect x="488.7" y="223.55" width="6" height="3.95" fill="#27307f"/>
<line x1="491.7" y1="227.5" x2="491.7" y2="229.7" stroke="#1c1a1c" stroke-width="0.6"/>
<text x="493.3" y="232.3" font-size="7.7" text-anchor="end" font-style="italic" transform="rotate(-45 493.3 232.3)">PIK3CA</text>
<rect x="498.3" y="223.55" width="6" height="3.95" fill="#27307f"/>
<line x1="501.3" y1="227.5" x2="501.3" y2="229.7" stroke="#1c1a1c" stroke-width="0.6"/>
<text x="502.9" y="232.3" font-size="7.7" text-anchor="end" font-style="italic" transform="rotate(-45 502.9 232.3)">PTEN</text>
<rect x="507.9" y="223.55" width="6" height="3.95" fill="#27307f"/>
<line x1="510.9" y1="227.5" x2="510.9" y2="229.7" stroke="#1c1a1c" stroke-width="0.6"/>
<text x="512.5" y="232.3" font-size="7.7" text-anchor="end" font-style="italic" transform="rotate(-45 512.5 232.3)">RAF1</text>
<line x1="293" y1="128.45" x2="293" y2="227.5" stroke="#1c1a1c" stroke-width="0.9"/>
<line x1="292.55" y1="227.5" x2="517" y2="227.5" stroke="#1c1a1c" stroke-width="0.9"/>
<line x1="290.6" y1="227.5" x2="293" y2="227.5" stroke="#1c1a1c" stroke-width="0.6"/>
<text x="289.4" y="230.15" font-size="7.5" text-anchor="end">0</text>
<line x1="291.6" y1="217.62" x2="293" y2="217.62" stroke="#1c1a1c" stroke-width="0.55"/>
<line x1="290.6" y1="207.75" x2="293" y2="207.75" stroke="#1c1a1c" stroke-width="0.6"/>
<text x="289.4" y="210.4" font-size="7.5" text-anchor="end">5</text>
<line x1="291.6" y1="197.88" x2="293" y2="197.88" stroke="#1c1a1c" stroke-width="0.55"/>
<line x1="290.6" y1="188" x2="293" y2="188" stroke="#1c1a1c" stroke-width="0.6"/>
<text x="289.4" y="190.65" font-size="7.5" text-anchor="end">10</text>
<line x1="291.6" y1="178.12" x2="293" y2="178.12" stroke="#1c1a1c" stroke-width="0.55"/>
<line x1="290.6" y1="168.25" x2="293" y2="168.25" stroke="#1c1a1c" stroke-width="0.6"/>
<text x="289.4" y="170.9" font-size="7.5" text-anchor="end">15</text>
<line x1="291.6" y1="158.38" x2="293" y2="158.38" stroke="#1c1a1c" stroke-width="0.55"/>
<line x1="290.6" y1="148.5" x2="293" y2="148.5" stroke="#1c1a1c" stroke-width="0.6"/>
<text x="289.4" y="151.15" font-size="7.5" text-anchor="end">20</text>
<line x1="291.6" y1="138.62" x2="293" y2="138.62" stroke="#1c1a1c" stroke-width="0.55"/>
<line x1="290.6" y1="128.75" x2="293" y2="128.75" stroke="#1c1a1c" stroke-width="0.6"/>
<text x="289.4" y="131.4" font-size="7.5" text-anchor="end">25</text>
<text x="276.6" y="176.8" font-size="7.6" text-anchor="middle" transform="rotate(-90 276.6 176.8)"># of ctDNA variants</text>
<line x1="302.25" y1="422" x2="302.25" y2="424.2" stroke="#1c1a1c" stroke-width="0.6"/>
<rect x="299.2" y="343.2" width="6.1" height="78.8" fill="#27307f"/>
<rect x="299.2" y="326.68" width="6.1" height="16.72" fill="#e8362a"/>
<rect x="299.2" y="322.5" width="6.1" height="4.38" fill="#0c9547"/>
<text x="304.15" y="429.4" font-size="7.7" text-anchor="end" transform="rotate(-50 304.15 429.4)">ALK</text>
<line x1="311.84" y1="422" x2="311.84" y2="424.2" stroke="#1c1a1c" stroke-width="0.6"/>
<rect x="308.79" y="334.94" width="6.1" height="87.06" fill="#27307f"/>
<rect x="308.79" y="326.68" width="6.1" height="8.46" fill="#3a55a6"/>
<rect x="308.79" y="322.5" width="6.1" height="4.38" fill="#dcdcde"/>
<text x="313.74" y="429.4" font-size="7.7" text-anchor="end" font-style="italic" transform="rotate(-50 313.74 429.4)">TP53</text>
<line x1="321.43" y1="422" x2="321.43" y2="424.2" stroke="#1c1a1c" stroke-width="0.6"/>
<rect x="318.38" y="322.5" width="6.1" height="99.5" fill="#e8362a"/>
<text x="323.33" y="429.4" font-size="7.7" text-anchor="end" font-style="italic" transform="rotate(-50 323.33 429.4)">MYCN</text>
<line x1="331.02" y1="422" x2="331.02" y2="424.2" stroke="#1c1a1c" stroke-width="0.6"/>
<rect x="327.97" y="365.19" width="6.1" height="56.81" fill="#27307f"/>
<rect x="327.97" y="350.96" width="6.1" height="14.43" fill="#e8362a"/>
<rect x="327.97" y="322.5" width="6.1" height="28.66" fill="#f6e62a"/>
<text x="332.92" y="429.4" font-size="7.7" text-anchor="end" font-style="italic" transform="rotate(-50 332.92 429.4)">BRAF</text>
<line x1="340.61" y1="422" x2="340.61" y2="424.2" stroke="#1c1a1c" stroke-width="0.6"/>
<rect x="337.56" y="405.38" width="6.1" height="16.62" fill="#27307f"/>
<rect x="337.56" y="322.5" width="6.1" height="83.08" fill="#e8362a"/>
<text x="342.51" y="429.4" font-size="7.7" text-anchor="end" font-style="italic" transform="rotate(-50 342.51 429.4)">ERBB2</text>
<line x1="350.2" y1="422" x2="350.2" y2="424.2" stroke="#1c1a1c" stroke-width="0.6"/>
<rect x="347.15" y="388.87" width="6.1" height="33.13" fill="#3a55a6"/>
<rect x="347.15" y="355.63" width="6.1" height="33.43" fill="#7b87c5"/>
<rect x="347.15" y="339.12" width="6.1" height="16.72" fill="#dcdcde"/>
<rect x="347.15" y="322.5" width="6.1" height="16.82" fill="#0c9547"/>
<text x="352.1" y="429.4" font-size="7.7" text-anchor="end" font-style="italic" transform="rotate(-50 352.1 429.4)">NF1</text>
<line x1="359.79" y1="422" x2="359.79" y2="424.2" stroke="#1c1a1c" stroke-width="0.6"/>
<rect x="356.74" y="382.2" width="6.1" height="39.8" fill="#3a55a6"/>
<rect x="356.74" y="322.5" width="6.1" height="59.9" fill="#7b87c5"/>
<text x="361.69" y="429.4" font-size="7.7" text-anchor="end" font-style="italic" transform="rotate(-50 361.69 429.4)">BRCA2</text>
<line x1="369.38" y1="422" x2="369.38" y2="424.2" stroke="#1c1a1c" stroke-width="0.6"/>
<rect x="366.33" y="322.5" width="6.1" height="99.5" fill="#27307f"/>
<text x="371.28" y="429.4" font-size="7.7" text-anchor="end" font-style="italic" transform="rotate(-50 371.28 429.4)">NRAS</text>
<line x1="378.97" y1="422" x2="378.97" y2="424.2" stroke="#1c1a1c" stroke-width="0.6"/>
<rect x="375.92" y="388.87" width="6.1" height="33.13" fill="#7b87c5"/>
<rect x="375.92" y="355.63" width="6.1" height="33.43" fill="#dcdcde"/>
<rect x="375.92" y="322.5" width="6.1" height="33.33" fill="#0c9547"/>
<text x="380.87" y="429.4" font-size="7.7" text-anchor="end" font-style="italic" transform="rotate(-50 380.87 429.4)">CDKN2A</text>
<line x1="388.56" y1="422" x2="388.56" y2="424.2" stroke="#1c1a1c" stroke-width="0.6"/>
<rect x="385.51" y="322.5" width="6.1" height="99.5" fill="#27307f"/>
<text x="390.46" y="429.4" font-size="7.7" text-anchor="end" font-style="italic" transform="rotate(-50 390.46 429.4)">PTPN11</text>
<line x1="398.15" y1="422" x2="398.15" y2="424.2" stroke="#1c1a1c" stroke-width="0.6"/>
<rect x="395.1" y="322.5" width="6.1" height="99.5" fill="#27307f"/>
<text x="400.05" y="429.4" font-size="7.7" text-anchor="end" font-style="italic" transform="rotate(-50 400.05 429.4)">TERT</text>
<line x1="407.74" y1="422" x2="407.74" y2="424.2" stroke="#1c1a1c" stroke-width="0.6"/>
<rect x="404.69" y="322.5" width="6.1" height="99.5" fill="#3a55a6"/>
<text x="409.64" y="429.4" font-size="7.7" text-anchor="end" font-style="italic" transform="rotate(-50 409.64 429.4)">ERRFI1</text>
<line x1="417.33" y1="422" x2="417.33" y2="424.2" stroke="#1c1a1c" stroke-width="0.6"/>
<rect x="414.28" y="322.5" width="6.1" height="99.5" fill="#27307f"/>
<text x="419.23" y="429.4" font-size="7.7" text-anchor="end" font-style="italic" transform="rotate(-50 419.23 429.4)">FGFR1</text>
<line x1="426.92" y1="422" x2="426.92" y2="424.2" stroke="#1c1a1c" stroke-width="0.6"/>
<rect x="423.87" y="322.5" width="6.1" height="99.5" fill="#f6e62a"/>
<text x="428.82" y="429.4" font-size="7.7" text-anchor="end" font-style="italic" transform="rotate(-50 428.82 429.4)">MET</text>
<line x1="436.51" y1="422" x2="436.51" y2="424.2" stroke="#1c1a1c" stroke-width="0.6"/>
<rect x="433.46" y="322.5" width="6.1" height="99.5" fill="#27307f"/>
<text x="438.41" y="429.4" font-size="7.7" text-anchor="end" font-style="italic" transform="rotate(-50 438.41 429.4)">ABL1</text>
<line x1="446.1" y1="422" x2="446.1" y2="424.2" stroke="#1c1a1c" stroke-width="0.6"/>
<rect x="443.05" y="322.5" width="6.1" height="99.5" fill="#7b87c5"/>
<text x="448" y="429.4" font-size="7.7" text-anchor="end" font-style="italic" transform="rotate(-50 448 429.4)">BRCA1</text>
<line x1="455.69" y1="422" x2="455.69" y2="424.2" stroke="#1c1a1c" stroke-width="0.6"/>
<rect x="452.64" y="322.5" width="6.1" height="99.5" fill="#3a55a6"/>
<text x="457.59" y="429.4" font-size="7.7" text-anchor="end" font-style="italic" transform="rotate(-50 457.59 429.4)">CDH1</text>
<line x1="465.28" y1="422" x2="465.28" y2="424.2" stroke="#1c1a1c" stroke-width="0.6"/>
<rect x="462.23" y="322.5" width="6.1" height="99.5" fill="#0c9547"/>
<text x="467.18" y="429.4" font-size="7.7" text-anchor="end" font-style="italic" transform="rotate(-50 467.18 429.4)">EZH2</text>
<line x1="474.87" y1="422" x2="474.87" y2="424.2" stroke="#1c1a1c" stroke-width="0.6"/>
<rect x="471.82" y="322.5" width="6.1" height="99.5" fill="#27307f"/>
<text x="476.77" y="429.4" font-size="7.7" text-anchor="end" font-style="italic" transform="rotate(-50 476.77 429.4)">FLT3</text>
<line x1="484.46" y1="422" x2="484.46" y2="424.2" stroke="#1c1a1c" stroke-width="0.6"/>
<rect x="481.41" y="322.5" width="6.1" height="99.5" fill="#27307f"/>
<text x="486.36" y="429.4" font-size="7.7" text-anchor="end" font-style="italic" transform="rotate(-50 486.36 429.4)">KIT</text>
<line x1="494.05" y1="422" x2="494.05" y2="424.2" stroke="#1c1a1c" stroke-width="0.6"/>
<rect x="491" y="322.5" width="6.1" height="99.5" fill="#27307f"/>
<text x="495.95" y="429.4" font-size="7.7" text-anchor="end" font-style="italic" transform="rotate(-50 495.95 429.4)">PIK3CA</text>
<line x1="503.64" y1="422" x2="503.64" y2="424.2" stroke="#1c1a1c" stroke-width="0.6"/>
<rect x="500.59" y="322.5" width="6.1" height="99.5" fill="#3a55a6"/>
<text x="505.54" y="429.4" font-size="7.7" text-anchor="end" font-style="italic" transform="rotate(-50 505.54 429.4)">PTEN</text>
<line x1="513.23" y1="422" x2="513.23" y2="424.2" stroke="#1c1a1c" stroke-width="0.6"/>
<rect x="510.18" y="322.5" width="6.1" height="99.5" fill="#0c9547"/>
<text x="515.13" y="429.4" font-size="7.7" text-anchor="end" font-style="italic" transform="rotate(-50 515.13 429.4)">RAF1</text>
<line x1="294.9" y1="322.2" x2="294.9" y2="422" stroke="#1c1a1c" stroke-width="0.9"/>
<line x1="294.45" y1="422" x2="518" y2="422" stroke="#1c1a1c" stroke-width="0.9"/>
<line x1="292.5" y1="422" x2="294.9" y2="422" stroke="#1c1a1c" stroke-width="0.6"/>
<text x="291.5" y="424.5" font-size="7.1" text-anchor="end">0</text>
<line x1="292.5" y1="397.12" x2="294.9" y2="397.12" stroke="#1c1a1c" stroke-width="0.6"/>
<text x="291.5" y="399.62" font-size="7.1" text-anchor="end">25</text>
<line x1="292.5" y1="372.25" x2="294.9" y2="372.25" stroke="#1c1a1c" stroke-width="0.6"/>
<text x="291.5" y="374.75" font-size="7.1" text-anchor="end">50</text>
<line x1="292.5" y1="347.38" x2="294.9" y2="347.38" stroke="#1c1a1c" stroke-width="0.6"/>
<text x="291.5" y="349.88" font-size="7.1" text-anchor="end">75</text>
<line x1="292.5" y1="322.5" x2="294.9" y2="322.5" stroke="#1c1a1c" stroke-width="0.6"/>
<text x="291.5" y="325" font-size="7.1" text-anchor="end">100</text>
<text x="276.1" y="374.5" font-size="7.4" text-anchor="middle" transform="rotate(-90 276.1 374.5)">% of each ctDNA variant</text>
<rect x="339.6" y="281.1" width="5" height="6.2" fill="#27307f"/>
<text x="347.4" y="286.9" font-size="7.5">Missense</text>
<rect x="339.6" y="290.3" width="5" height="6.2" fill="#3a55a6"/>
<text x="347.4" y="296.1" font-size="7.5">Frameshift</text>
<rect x="339.6" y="299.5" width="5" height="6.2" fill="#7b87c5"/>
<text x="347.4" y="305.3" font-size="7.5">Nonsense</text>
<rect x="339.6" y="308.7" width="5" height="6.2" fill="#dcdcde"/>
<text x="347.4" y="314.5" font-size="7.5">Splice</text>
<rect x="394.6" y="281.1" width="5" height="6.2" fill="#e8362a"/>
<text x="402.8" y="286.9" font-size="7.5">Amplification (focal)</text>
<rect x="394.6" y="290" width="5" height="6.2" fill="#f6e62a"/>
<text x="402.8" y="295.8" font-size="7.5">Amplification (nonfocal)</text>
<rect x="394.6" y="298.9" width="5" height="6.2" fill="#0c9547"/>
<text x="402.8" y="304.7" font-size="7.5">Rearrangement</text>
<line x1="295.4" y1="586.7" x2="517.5" y2="586.7" stroke="#b3b4bb" stroke-width="1.1"/>
<path d="M303.5,603.2 L303.4,601.9 L303.4,600.7 L303.3,599.4 L303.2,598.2 L303.1,596.9 L302.9,595.7 L302.6,594.4 L302.2,593.2 L301.6,591.9 L300.8,590.7 L300.2,589.4 L300.0,588.2 L299.9,586.9 L299.8,585.7 L299.8,584.4 L299.9,583.2 L300.1,581.9 L300.2,580.7 L300.4,579.4 L300.6,578.2 L300.7,576.9 L300.9,575.7 L301.1,574.4 L301.3,573.2 L301.5,571.9 L301.6,570.7 L301.7,569.4 L301.9,568.2 L302.0,566.9 L302.1,565.7 L302.2,564.4 L302.3,563.2 L302.4,561.9 L302.5,560.7 L302.5,559.4 L302.6,558.2 L302.7,556.9 L302.7,555.7 L302.8,554.4 L302.8,553.2 L302.9,551.9 L302.9,550.7 L302.9,549.4 L302.9,548.2 L302.9,546.9 L302.9,545.7 L302.8,544.4 L302.8,543.2 L302.8,541.9 L302.8,540.7 L302.8,539.4 L302.8,538.2 L302.8,536.9 L302.9,535.7 L302.9,534.4 L302.9,533.2 L303.0,531.9 L303.0,530.7 L303.0,529.4 L303.0,528.2 L303.0,526.9 L303.0,525.7 L303.0,524.5 L303.0,523.2 L303.0,522.0 L302.9,520.7 L302.9,519.5 L302.8,518.2 L302.8,517.0 L302.7,515.7 L302.6,514.5 L302.5,513.2 L302.4,512.0 L302.3,510.7 L302.2,509.5 L302.2,508.2 L302.2,507.0 L302.3,505.7 L302.5,504.5 L302.6,503.2 L302.8,502.0 L302.9,500.7 L303.0,499.5 L303.1,498.2 L303.2,497.0 L303.3,495.7 L303.4,494.5 L303.4,493.2 L303.5,492.0 L303.5,492.0 L303.6,493.2 L303.6,494.5 L303.7,495.7 L303.8,497.0 L303.9,498.2 L304.0,499.5 L304.1,500.7 L304.2,502.0 L304.4,503.2 L304.5,504.5 L304.7,505.7 L304.8,507.0 L304.8,508.2 L304.8,509.5 L304.7,510.7 L304.6,512.0 L304.5,513.2 L304.4,514.5 L304.3,515.7 L304.2,517.0 L304.2,518.2 L304.1,519.5 L304.1,520.7 L304.0,522.0 L304.0,523.2 L304.0,524.5 L304.0,525.7 L304.0,526.9 L304.0,528.2 L304.0,529.4 L304.0,530.7 L304.0,531.9 L304.1,533.2 L304.1,534.4 L304.1,535.7 L304.2,536.9 L304.2,538.2 L304.2,539.4 L304.2,540.7 L304.2,541.9 L304.2,543.2 L304.2,544.4 L304.1,545.7 L304.1,546.9 L304.1,548.2 L304.1,549.4 L304.1,550.7 L304.1,551.9 L304.2,553.2 L304.2,554.4 L304.3,555.7 L304.3,556.9 L304.4,558.2 L304.5,559.4 L304.5,560.7 L304.6,561.9 L304.7,563.2 L304.8,564.4 L304.9,565.7 L305.0,566.9 L305.1,568.2 L305.3,569.4 L305.4,570.7 L305.5,571.9 L305.7,573.2 L305.9,574.4 L306.1,575.7 L306.3,576.9 L306.4,578.2 L306.6,579.4 L306.8,580.7 L306.9,581.9 L307.1,583.2 L307.2,584.4 L307.2,585.7 L307.1,586.9 L307.0,588.2 L306.8,589.4 L306.2,590.7 L305.4,591.9 L304.8,593.2 L304.4,594.4 L304.1,595.7 L303.9,596.9 L303.8,598.2 L303.7,599.4 L303.6,600.7 L303.6,601.9 L303.5,603.2Z" fill="none" stroke="#2c3488" stroke-width="0.6" stroke-linejoin="round"/>
<circle cx="300.8" cy="586.7" r="1.45" fill="none" stroke="#2a3184" stroke-width="0.75"/>
<circle cx="301.88" cy="586.7" r="1.45" fill="none" stroke="#2a3184" stroke-width="0.75"/>
<circle cx="302.96" cy="586.7" r="1.45" fill="none" stroke="#2a3184" stroke-width="0.75"/>
<circle cx="304.04" cy="586.7" r="1.45" fill="none" stroke="#2a3184" stroke-width="0.75"/>
<circle cx="305.12" cy="586.7" r="1.45" fill="none" stroke="#2a3184" stroke-width="0.75"/>
<circle cx="306.2" cy="586.7" r="1.45" fill="none" stroke="#2a3184" stroke-width="0.75"/>
<circle cx="301.2" cy="585.41" r="1.45" fill="none" stroke="#2a3184" stroke-width="0.75"/>
<circle cx="302.35" cy="585.41" r="1.45" fill="none" stroke="#2a3184" stroke-width="0.75"/>
<circle cx="303.5" cy="585.41" r="1.45" fill="none" stroke="#2a3184" stroke-width="0.75"/>
<circle cx="304.65" cy="585.41" r="1.45" fill="none" stroke="#2a3184" stroke-width="0.75"/>
<circle cx="305.8" cy="585.41" r="1.45" fill="none" stroke="#2a3184" stroke-width="0.75"/>
<circle cx="301.7" cy="584.12" r="1.45" fill="none" stroke="#2a3184" stroke-width="0.75"/>
<circle cx="302.9" cy="584.12" r="1.45" fill="none" stroke="#2a3184" stroke-width="0.75"/>
<circle cx="304.1" cy="584.12" r="1.45" fill="none" stroke="#2a3184" stroke-width="0.75"/>
<circle cx="305.3" cy="584.12" r="1.45" fill="none" stroke="#2a3184" stroke-width="0.75"/>
<circle cx="302.6" cy="582.73" r="1.45" fill="none" stroke="#2a3184" stroke-width="0.75"/>
<circle cx="304.4" cy="582.73" r="1.45" fill="none" stroke="#2a3184" stroke-width="0.75"/>
<line x1="300.5" y1="578.27" x2="306.5" y2="578.27" stroke="#cf3a2e" stroke-width="0.9"/>
<circle cx="303.5" cy="507.84" r="1.45" fill="none" stroke="#2a3184" stroke-width="0.7"/>
<circle cx="303.5" cy="540.47" r="1.45" fill="none" stroke="#2a3184" stroke-width="0.7"/>
<circle cx="303.5" cy="549.3" r="1.45" fill="none" stroke="#2a3184" stroke-width="0.7"/>
<circle cx="303.5" cy="559.92" r="1.45" fill="none" stroke="#2a3184" stroke-width="0.7"/>
<circle cx="303.8" cy="563.88" r="1.45" fill="none" stroke="#2a3184" stroke-width="0.7"/>
<circle cx="303.1" cy="565.37" r="1.45" fill="none" stroke="#2a3184" stroke-width="0.7"/>
<circle cx="303.7" cy="567.26" r="1.45" fill="none" stroke="#2a3184" stroke-width="0.7"/>
<circle cx="303.2" cy="570.43" r="1.45" fill="none" stroke="#2a3184" stroke-width="0.7"/>
<circle cx="304" cy="573.8" r="1.45" fill="none" stroke="#2a3184" stroke-width="0.7"/>
<circle cx="303" cy="576.28" r="1.45" fill="none" stroke="#2a3184" stroke-width="0.7"/>
<circle cx="303.5" cy="578.27" r="1.45" fill="none" stroke="#2a3184" stroke-width="0.7"/>
<circle cx="304.3" cy="579.76" r="1.45" fill="none" stroke="#2a3184" stroke-width="0.7"/>
<circle cx="302.3" cy="581.24" r="1.45" fill="none" stroke="#2a3184" stroke-width="0.7"/>
<circle cx="304.9" cy="580.25" r="1.45" fill="none" stroke="#2a3184" stroke-width="0.7"/>
<path d="M315.1,590.2 L313.8,589.3 L312.8,588.4 L312.1,587.5 L311.5,586.6 L311.3,585.7 L311.4,584.9 L311.8,584.0 L312.3,583.1 L312.7,582.2 L313.3,581.3 L313.8,580.4 L314.1,579.5 L314.2,578.7 L314.2,577.8 L314.2,576.9 L314.2,576.0 L314.2,575.1 L314.2,574.2 L314.2,573.3 L314.2,572.4 L314.2,571.6 L314.2,570.7 L314.2,569.8 L314.2,568.9 L314.2,568.0 L314.2,567.1 L314.2,566.2 L314.2,565.4 L314.2,564.5 L314.2,563.6 L314.2,562.7 L314.2,561.8 L314.2,560.9 L314.2,560.0 L314.2,559.2 L314.2,558.3 L314.2,557.4 L314.2,556.5 L314.2,555.6 L314.2,554.7 L314.2,553.8 L314.2,553.0 L314.2,552.1 L314.2,551.2 L314.2,550.3 L314.2,549.4 L314.2,548.5 L314.2,547.6 L314.2,546.8 L314.2,545.9 L314.2,545.0 L314.2,544.1 L314.2,543.2 L314.2,542.3 L314.2,541.4 L314.2,540.5 L314.2,539.7 L314.2,538.8 L314.2,537.9 L314.2,537.0 L314.2,536.1 L314.2,535.2 L314.2,534.3 L314.2,533.5 L314.2,532.6 L314.2,531.7 L314.2,530.8 L314.2,529.9 L314.2,529.0 L314.2,528.1 L314.2,527.3 L314.2,526.4 L314.2,525.5 L314.2,524.6 L314.2,523.7 L314.2,522.8 L314.2,521.9 L314.2,521.1 L314.2,520.2 L314.2,519.3 L314.2,518.4 L314.2,517.5 L314.2,516.6 L314.2,515.7 L314.2,514.9 L314.3,514.0 L314.3,513.1 L314.3,512.2 L315.1,511.3 L315.1,511.3 L315.8,512.2 L315.8,513.1 L315.8,514.0 L315.9,514.9 L315.9,515.7 L315.9,516.6 L315.9,517.5 L315.9,518.4 L315.9,519.3 L315.9,520.2 L315.9,521.1 L315.9,521.9 L315.9,522.8 L315.9,523.7 L315.9,524.6 L315.9,525.5 L315.9,526.4 L315.9,527.3 L315.9,528.1 L315.9,529.0 L315.9,529.9 L315.9,530.8 L315.9,531.7 L315.9,532.6 L315.9,533.5 L315.9,534.3 L315.9,535.2 L315.9,536.1 L315.9,537.0 L315.9,537.9 L315.9,538.8 L315.9,539.7 L315.9,540.5 L315.9,541.4 L315.9,542.3 L315.9,543.2 L315.9,544.1 L315.9,545.0 L315.9,545.9 L315.9,546.8 L315.9,547.6 L315.9,548.5 L315.9,549.4 L315.9,550.3 L315.9,551.2 L315.9,552.1 L315.9,553.0 L315.9,553.8 L315.9,554.7 L315.9,555.6 L315.9,556.5 L315.9,557.4 L315.9,558.3 L315.9,559.2 L315.9,560.0 L315.9,560.9 L315.9,561.8 L315.9,562.7 L315.9,563.6 L315.9,564.5 L315.9,565.4 L315.9,566.2 L315.9,567.1 L315.9,568.0 L315.9,568.9 L315.9,569.8 L315.9,570.7 L315.9,571.6 L315.9,572.4 L315.9,573.3 L315.9,574.2 L315.9,575.1 L315.9,576.0 L315.9,576.9 L315.9,577.8 L315.9,578.7 L316.0,579.5 L316.3,580.4 L316.8,581.3 L317.4,582.2 L317.8,583.1 L318.3,584.0 L318.7,584.9 L318.8,585.7 L318.6,586.6 L318.0,587.5 L317.3,588.4 L316.3,589.3 L315.1,590.2Z" fill="#c3cdea" stroke="#98a4d6" stroke-width="0.45" stroke-linejoin="round"/>
<circle cx="311.85" cy="586.7" r="1.45" fill="none" stroke="#2a3184" stroke-width="0.8"/>
<circle cx="312.92" cy="586.7" r="1.45" fill="none" stroke="#2a3184" stroke-width="0.8"/>
<circle cx="313.98" cy="586.7" r="1.45" fill="none" stroke="#2a3184" stroke-width="0.8"/>
<circle cx="315.05" cy="586.7" r="1.45" fill="none" stroke="#2a3184" stroke-width="0.8"/>
<circle cx="316.12" cy="586.7" r="1.45" fill="none" stroke="#2a3184" stroke-width="0.8"/>
<circle cx="317.18" cy="586.7" r="1.45" fill="none" stroke="#2a3184" stroke-width="0.8"/>
<circle cx="318.25" cy="586.7" r="1.45" fill="none" stroke="#2a3184" stroke-width="0.8"/>
<circle cx="312.65" cy="585.51" r="1.45" fill="none" stroke="#2a3184" stroke-width="0.8"/>
<circle cx="313.85" cy="585.51" r="1.45" fill="none" stroke="#2a3184" stroke-width="0.8"/>
<circle cx="315.05" cy="585.51" r="1.45" fill="none" stroke="#2a3184" stroke-width="0.8"/>
<circle cx="316.25" cy="585.51" r="1.45" fill="none" stroke="#2a3184" stroke-width="0.8"/>
<circle cx="317.45" cy="585.51" r="1.45" fill="none" stroke="#2a3184" stroke-width="0.8"/>
<circle cx="313.65" cy="584.22" r="1.45" fill="none" stroke="#2a3184" stroke-width="0.8"/>
<circle cx="315.05" cy="584.22" r="1.45" fill="none" stroke="#2a3184" stroke-width="0.8"/>
<circle cx="316.45" cy="584.22" r="1.45" fill="none" stroke="#2a3184" stroke-width="0.8"/>
<circle cx="314.45" cy="582.93" r="1.45" fill="none" stroke="#2a3184" stroke-width="0.8"/>
<circle cx="315.65" cy="582.93" r="1.45" fill="none" stroke="#2a3184" stroke-width="0.8"/>
<circle cx="315.05" cy="514.28" r="1.45" fill="none" stroke="#2a3184" stroke-width="0.8"/>
<circle cx="315.05" cy="528.17" r="1.45" fill="none" stroke="#2a3184" stroke-width="0.8"/>
<path d="M326.6,590.2 L326.5,590.0 L326.3,589.8 L326.2,589.7 L326.0,589.5 L325.9,589.4 L325.8,589.2 L325.6,589.0 L325.5,588.9 L325.4,588.7 L325.3,588.6 L325.1,588.4 L325.0,588.2 L324.9,588.1 L324.8,587.9 L324.7,587.7 L324.6,587.6 L324.4,587.4 L324.3,587.3 L324.2,587.1 L324.1,586.9 L324.0,586.8 L323.9,586.6 L323.8,586.5 L323.7,586.3 L323.7,586.1 L323.6,586.0 L323.6,585.8 L323.6,585.6 L323.6,585.5 L323.7,585.3 L323.7,585.2 L323.8,585.0 L323.9,584.8 L324.1,584.7 L324.2,584.5 L324.3,584.4 L324.5,584.2 L324.6,584.0 L324.7,583.9 L324.9,583.7 L325.0,583.5 L325.1,583.4 L325.2,583.2 L325.3,583.1 L325.4,582.9 L325.5,582.7 L325.6,582.6 L325.7,582.4 L325.8,582.3 L325.9,582.1 L325.9,581.9 L326.0,581.8 L326.0,581.6 L326.0,581.4 L326.0,581.3 L325.9,581.1 L325.9,581.0 L325.8,580.8 L325.7,580.6 L325.7,580.5 L325.6,580.3 L325.6,580.2 L325.5,580.0 L325.5,579.8 L325.5,579.7 L325.5,579.5 L325.5,579.3 L325.6,579.2 L325.6,579.0 L325.7,578.9 L325.8,578.7 L325.8,578.5 L325.9,578.4 L326.0,578.2 L326.0,578.1 L326.1,577.9 L326.1,577.7 L326.2,577.6 L326.2,577.4 L326.2,577.2 L326.3,577.1 L326.3,576.9 L326.4,576.8 L326.4,576.6 L326.4,576.4 L326.5,576.3 L326.5,576.1 L326.6,575.9 L326.6,575.8 L326.6,575.8 L326.6,575.9 L326.7,576.1 L326.7,576.3 L326.8,576.4 L326.8,576.6 L326.8,576.8 L326.9,576.9 L326.9,577.1 L327.0,577.2 L327.0,577.4 L327.0,577.6 L327.1,577.7 L327.1,577.9 L327.2,578.1 L327.2,578.2 L327.3,578.4 L327.4,578.5 L327.4,578.7 L327.5,578.9 L327.6,579.0 L327.6,579.2 L327.7,579.3 L327.7,579.5 L327.7,579.7 L327.7,579.8 L327.7,580.0 L327.6,580.2 L327.6,580.3 L327.5,580.5 L327.5,580.6 L327.4,580.8 L327.3,581.0 L327.3,581.1 L327.2,581.3 L327.2,581.4 L327.2,581.6 L327.2,581.8 L327.3,581.9 L327.3,582.1 L327.4,582.3 L327.5,582.4 L327.6,582.6 L327.7,582.7 L327.8,582.9 L327.9,583.1 L328.0,583.2 L328.1,583.4 L328.2,583.5 L328.3,583.7 L328.5,583.9 L328.6,584.0 L328.7,584.2 L328.9,584.4 L329.0,584.5 L329.1,584.7 L329.3,584.8 L329.4,585.0 L329.5,585.2 L329.5,585.3 L329.6,585.5 L329.6,585.6 L329.6,585.8 L329.6,586.0 L329.5,586.1 L329.5,586.3 L329.4,586.5 L329.3,586.6 L329.2,586.8 L329.1,586.9 L329.0,587.1 L328.9,587.3 L328.8,587.4 L328.6,587.6 L328.5,587.7 L328.4,587.9 L328.3,588.1 L328.2,588.2 L328.1,588.4 L327.9,588.6 L327.8,588.7 L327.7,588.9 L327.6,589.0 L327.4,589.2 L327.3,589.4 L327.2,589.5 L327.0,589.7 L326.9,589.8 L326.7,590.0 L326.6,590.2Z" fill="none" stroke="#2c3488" stroke-width="0.6" stroke-linejoin="round"/>
<circle cx="324.1" cy="586.7" r="1.45" fill="none" stroke="#2a3184" stroke-width="0.75"/>
<circle cx="325.35" cy="586.7" r="1.45" fill="none" stroke="#2a3184" stroke-width="0.75"/>
<circle cx="326.6" cy="586.7" r="1.45" fill="none" stroke="#2a3184" stroke-width="0.75"/>
<circle cx="327.85" cy="586.7" r="1.45" fill="none" stroke="#2a3184" stroke-width="0.75"/>
<circle cx="329.1" cy="586.7" r="1.45" fill="none" stroke="#2a3184" stroke-width="0.75"/>
<circle cx="325.2" cy="585.51" r="1.45" fill="none" stroke="#2a3184" stroke-width="0.75"/>
<circle cx="326.6" cy="585.51" r="1.45" fill="none" stroke="#2a3184" stroke-width="0.75"/>
<circle cx="328" cy="585.51" r="1.45" fill="none" stroke="#2a3184" stroke-width="0.75"/>
<circle cx="326.6" cy="584.32" r="1.45" fill="none" stroke="#2a3184" stroke-width="0.75"/>
<circle cx="326.6" cy="579.76" r="1.45" fill="none" stroke="#2a3184" stroke-width="0.6"/>
<line x1="334.15" y1="555.95" x2="342.15" y2="555.95" stroke="#9b9db2" stroke-width="0.8"/>
<circle cx="338.15" cy="555.95" r="1.45" fill="none" stroke="#6f7296" stroke-width="0.65"/>
<path d="M349.7,609.5 L349.7,608.5 L349.6,607.4 L349.6,606.4 L349.5,605.3 L349.4,604.3 L349.3,603.2 L349.2,602.2 L349.1,601.1 L348.9,600.1 L348.8,599.0 L348.6,598.0 L348.4,596.9 L348.1,595.9 L347.8,594.8 L347.5,593.8 L347.2,592.8 L346.9,591.7 L346.5,590.7 L346.2,589.6 L345.9,588.6 L345.6,587.5 L345.5,586.5 L345.4,585.4 L345.3,584.4 L345.2,583.3 L345.2,582.3 L345.2,581.2 L345.3,580.2 L345.5,579.1 L345.6,578.1 L345.9,577.0 L346.1,576.0 L346.3,574.9 L346.5,573.9 L346.7,572.8 L347.0,571.8 L347.3,570.7 L347.5,569.7 L347.8,568.7 L348.0,567.6 L348.1,566.6 L348.3,565.5 L348.5,564.5 L348.7,563.4 L348.8,562.4 L349.0,561.3 L349.1,560.3 L349.1,559.2 L349.1,558.2 L349.1,557.1 L349.0,556.1 L349.0,555.0 L349.0,554.0 L348.9,552.9 L348.8,551.9 L348.8,550.8 L348.7,549.8 L348.6,548.7 L348.5,547.7 L348.4,546.7 L348.2,545.6 L348.1,544.6 L348.0,543.5 L347.9,542.5 L347.9,541.4 L347.9,540.4 L347.9,539.3 L348.0,538.3 L348.1,537.2 L348.2,536.2 L348.3,535.1 L348.4,534.1 L348.5,533.0 L348.6,532.0 L348.7,530.9 L348.8,529.9 L348.9,528.8 L349.0,527.8 L349.0,526.7 L349.1,525.7 L349.2,524.6 L349.3,523.6 L349.3,522.6 L349.4,521.5 L349.5,520.5 L349.5,519.4 L349.6,518.4 L349.6,517.3 L349.7,516.3 L349.7,516.3 L349.8,517.3 L349.8,518.4 L349.9,519.4 L349.9,520.5 L350.0,521.5 L350.1,522.6 L350.1,523.6 L350.2,524.6 L350.3,525.7 L350.4,526.7 L350.4,527.8 L350.5,528.8 L350.6,529.9 L350.7,530.9 L350.8,532.0 L350.9,533.0 L351.0,534.1 L351.1,535.1 L351.2,536.2 L351.3,537.2 L351.4,538.3 L351.5,539.3 L351.5,540.4 L351.5,541.4 L351.5,542.5 L351.4,543.5 L351.3,544.6 L351.2,545.6 L351.0,546.7 L350.9,547.7 L350.8,548.7 L350.7,549.8 L350.6,550.8 L350.6,551.9 L350.5,552.9 L350.4,554.0 L350.4,555.0 L350.4,556.1 L350.3,557.1 L350.3,558.2 L350.3,559.2 L350.3,560.3 L350.4,561.3 L350.6,562.4 L350.7,563.4 L350.9,564.5 L351.1,565.5 L351.3,566.6 L351.4,567.6 L351.6,568.7 L351.9,569.7 L352.1,570.7 L352.4,571.8 L352.7,572.8 L352.9,573.9 L353.1,574.9 L353.3,576.0 L353.5,577.0 L353.8,578.1 L353.9,579.1 L354.1,580.2 L354.2,581.2 L354.2,582.3 L354.2,583.3 L354.1,584.4 L354.0,585.4 L353.9,586.5 L353.8,587.5 L353.5,588.6 L353.2,589.6 L352.9,590.7 L352.5,591.7 L352.2,592.8 L351.9,593.8 L351.6,594.8 L351.3,595.9 L351.0,596.9 L350.8,598.0 L350.6,599.0 L350.5,600.1 L350.3,601.1 L350.2,602.2 L350.1,603.2 L350.0,604.3 L349.9,605.3 L349.8,606.4 L349.8,607.4 L349.7,608.5 L349.7,609.5Z" fill="none" stroke="#2c3488" stroke-width="0.6" stroke-linejoin="round"/>
<line x1="346.4" y1="586.7" x2="353" y2="586.7" stroke="#2a3386" stroke-width="1.4"/>
<line x1="346.3" y1="580.75" x2="353.1" y2="580.75" stroke="#cf3a2e" stroke-width="0.9"/>
<circle cx="349.7" cy="541.07" r="1.45" fill="none" stroke="#2a3184" stroke-width="0.6"/>
<circle cx="349.7" cy="575.79" r="1.45" fill="none" stroke="#2a3184" stroke-width="0.6"/>
<circle cx="349.7" cy="580.75" r="1.45" fill="none" stroke="#2a3184" stroke-width="0.6"/>
<circle cx="351.9" cy="584.72" r="1.45" fill="none" stroke="#2a3184" stroke-width="0.6"/>
<circle cx="348.3" cy="586.7" r="1.45" fill="none" stroke="#2a3184" stroke-width="0.6"/>
<circle cx="351.1" cy="586.7" r="1.45" fill="none" stroke="#2a3184" stroke-width="0.6"/>
<path d="M361.2,610.5 L361.2,609.4 L361.1,608.2 L360.9,607.1 L360.8,606.0 L360.6,604.8 L360.4,603.7 L360.2,602.5 L359.9,601.4 L359.7,600.3 L359.5,599.1 L359.2,598.0 L358.9,596.9 L358.7,595.7 L358.4,594.6 L358.2,593.5 L358.0,592.3 L357.7,591.2 L357.5,590.0 L357.2,588.9 L357.1,587.8 L357.1,586.6 L357.1,585.5 L357.1,584.4 L357.2,583.2 L357.3,582.1 L357.4,580.9 L357.5,579.8 L357.7,578.7 L357.8,577.5 L357.9,576.4 L358.1,575.3 L358.3,574.1 L358.4,573.0 L358.6,571.9 L358.8,570.7 L358.9,569.6 L359.1,568.4 L359.3,567.3 L359.4,566.2 L359.6,565.0 L359.7,563.9 L359.9,562.8 L360.0,561.6 L360.1,560.5 L360.2,559.3 L360.3,558.2 L360.4,557.1 L360.5,555.9 L360.5,554.8 L360.5,553.7 L360.5,552.5 L360.5,551.4 L360.4,550.3 L360.3,549.1 L360.3,548.0 L360.2,546.8 L360.1,545.7 L360.0,544.6 L359.9,543.4 L359.8,542.3 L359.7,541.2 L359.6,540.0 L359.5,538.9 L359.5,537.7 L359.5,536.6 L359.5,535.5 L359.5,534.3 L359.6,533.2 L359.7,532.1 L359.8,530.9 L359.9,529.8 L359.9,528.7 L360.0,527.5 L360.1,526.4 L360.2,525.2 L360.3,524.1 L360.4,523.0 L360.5,521.8 L360.6,520.7 L360.6,519.6 L360.7,518.4 L360.8,517.3 L360.9,516.1 L360.9,515.0 L361.0,513.9 L361.1,512.7 L361.1,511.6 L361.2,510.5 L361.2,509.3 L361.2,509.3 L361.3,510.5 L361.4,511.6 L361.4,512.7 L361.5,513.9 L361.6,515.0 L361.6,516.1 L361.7,517.3 L361.8,518.4 L361.9,519.6 L361.9,520.7 L362.0,521.8 L362.1,523.0 L362.2,524.1 L362.3,525.2 L362.4,526.4 L362.5,527.5 L362.6,528.7 L362.6,529.8 L362.7,530.9 L362.8,532.1 L362.9,533.2 L363.0,534.3 L363.0,535.5 L363.0,536.6 L363.0,537.7 L363.0,538.9 L362.9,540.0 L362.8,541.2 L362.7,542.3 L362.6,543.4 L362.5,544.6 L362.4,545.7 L362.3,546.8 L362.2,548.0 L362.2,549.1 L362.1,550.3 L362.0,551.4 L362.0,552.5 L362.0,553.7 L362.0,554.8 L362.0,555.9 L362.1,557.1 L362.2,558.2 L362.3,559.3 L362.4,560.5 L362.5,561.6 L362.6,562.8 L362.8,563.9 L362.9,565.0 L363.1,566.2 L363.2,567.3 L363.4,568.4 L363.6,569.6 L363.7,570.7 L363.9,571.9 L364.1,573.0 L364.2,574.1 L364.4,575.3 L364.6,576.4 L364.7,577.5 L364.8,578.7 L365.0,579.8 L365.1,580.9 L365.2,582.1 L365.3,583.2 L365.4,584.4 L365.4,585.5 L365.4,586.6 L365.4,587.8 L365.3,588.9 L365.0,590.0 L364.8,591.2 L364.5,592.3 L364.3,593.5 L364.1,594.6 L363.8,595.7 L363.6,596.9 L363.3,598.0 L363.0,599.1 L362.8,600.3 L362.6,601.4 L362.3,602.5 L362.1,603.7 L361.9,604.8 L361.7,606.0 L361.6,607.1 L361.4,608.2 L361.3,609.4 L361.2,610.5Z" fill="none" stroke="#2c3488" stroke-width="0.6" stroke-linejoin="round"/>
<line x1="357.65" y1="586.7" x2="364.85" y2="586.7" stroke="#2a3386" stroke-width="1.4"/>
<circle cx="361.25" cy="537.1" r="1.45" fill="none" stroke="#2a3184" stroke-width="0.6"/>
<circle cx="361.25" cy="570.83" r="1.45" fill="none" stroke="#2a3184" stroke-width="0.6"/>
<circle cx="358.95" cy="586.7" r="1.45" fill="none" stroke="#2a3184" stroke-width="0.6"/>
<circle cx="363.55" cy="586.7" r="1.45" fill="none" stroke="#2a3184" stroke-width="0.6"/>
<circle cx="361.25" cy="586.7" r="1.45" fill="none" stroke="#2a3184" stroke-width="0.6"/>
<path d="M372.8,594.6 L372.8,594.2 L372.8,593.9 L372.7,593.5 L372.7,593.1 L372.6,592.7 L372.5,592.3 L372.5,591.9 L372.4,591.5 L372.2,591.1 L372.0,590.7 L371.8,590.3 L371.5,590.0 L371.2,589.6 L371.0,589.2 L370.7,588.8 L370.5,588.4 L370.2,588.0 L369.9,587.6 L369.6,587.2 L369.4,586.8 L369.3,586.4 L369.2,586.1 L369.1,585.7 L369.0,585.3 L368.9,584.9 L368.9,584.5 L368.8,584.1 L368.8,583.7 L368.9,583.3 L369.0,582.9 L369.3,582.5 L369.6,582.2 L369.9,581.8 L370.3,581.4 L370.6,581.0 L370.8,580.6 L371.0,580.2 L371.3,579.8 L371.5,579.4 L371.7,579.0 L371.9,578.6 L372.1,578.3 L372.2,577.9 L372.2,577.5 L372.3,577.1 L372.3,576.7 L372.4,576.3 L372.4,575.9 L372.4,575.5 L372.4,575.1 L372.4,574.7 L372.3,574.4 L372.3,574.0 L372.3,573.6 L372.2,573.2 L372.2,572.8 L372.2,572.4 L372.1,572.0 L372.1,571.6 L372.0,571.2 L372.0,570.8 L371.9,570.4 L371.9,570.1 L371.9,569.7 L371.9,569.3 L371.9,568.9 L371.9,568.5 L371.9,568.1 L371.9,567.7 L372.0,567.3 L372.0,566.9 L372.1,566.5 L372.1,566.2 L372.2,565.8 L372.2,565.4 L372.3,565.0 L372.3,564.6 L372.4,564.2 L372.4,563.8 L372.5,563.4 L372.5,563.0 L372.5,562.6 L372.6,562.3 L372.6,561.9 L372.6,561.5 L372.7,561.1 L372.7,560.7 L372.8,560.3 L372.8,559.9 L372.8,559.9 L372.8,560.3 L372.9,560.7 L372.9,561.1 L373.0,561.5 L373.0,561.9 L373.0,562.3 L373.1,562.6 L373.1,563.0 L373.1,563.4 L373.2,563.8 L373.2,564.2 L373.3,564.6 L373.3,565.0 L373.4,565.4 L373.4,565.8 L373.5,566.2 L373.5,566.5 L373.6,566.9 L373.6,567.3 L373.7,567.7 L373.7,568.1 L373.7,568.5 L373.7,568.9 L373.7,569.3 L373.7,569.7 L373.7,570.1 L373.7,570.4 L373.6,570.8 L373.6,571.2 L373.5,571.6 L373.5,572.0 L373.4,572.4 L373.4,572.8 L373.4,573.2 L373.3,573.6 L373.3,574.0 L373.3,574.4 L373.2,574.7 L373.2,575.1 L373.2,575.5 L373.2,575.9 L373.2,576.3 L373.3,576.7 L373.3,577.1 L373.4,577.5 L373.4,577.9 L373.5,578.3 L373.7,578.6 L373.9,579.0 L374.1,579.4 L374.3,579.8 L374.6,580.2 L374.8,580.6 L375.0,581.0 L375.3,581.4 L375.7,581.8 L376.0,582.2 L376.3,582.5 L376.6,582.9 L376.7,583.3 L376.8,583.7 L376.8,584.1 L376.7,584.5 L376.7,584.9 L376.6,585.3 L376.5,585.7 L376.4,586.1 L376.3,586.4 L376.2,586.8 L376.0,587.2 L375.7,587.6 L375.4,588.0 L375.1,588.4 L374.9,588.8 L374.6,589.2 L374.4,589.6 L374.1,590.0 L373.8,590.3 L373.6,590.7 L373.4,591.1 L373.2,591.5 L373.1,591.9 L373.1,592.3 L373.0,592.7 L372.9,593.1 L372.9,593.5 L372.8,593.9 L372.8,594.2 L372.8,594.6Z" fill="none" stroke="#2c3488" stroke-width="0.6" stroke-linejoin="round"/>
<line x1="370.2" y1="583.72" x2="375.4" y2="583.72" stroke="#cf3a2e" stroke-width="0.8"/>
<circle cx="372.8" cy="568.84" r="1.45" fill="none" stroke="#2a3184" stroke-width="0.6"/>
<circle cx="373.1" cy="581.74" r="1.45" fill="none" stroke="#2a3184" stroke-width="0.6"/>
<circle cx="371.9" cy="583.23" r="1.45" fill="none" stroke="#2a3184" stroke-width="0.6"/>
<circle cx="374.3" cy="583.72" r="1.45" fill="none" stroke="#2a3184" stroke-width="0.6"/>
<circle cx="371" cy="584.72" r="1.45" fill="none" stroke="#2a3184" stroke-width="0.6"/>
<circle cx="373.4" cy="585.71" r="1.45" fill="none" stroke="#2a3184" stroke-width="0.6"/>
<circle cx="372.4" cy="586.2" r="1.45" fill="none" stroke="#2a3184" stroke-width="0.6"/>
<path d="M384.4,610.5 L384.3,609.6 L384.3,608.8 L384.2,607.9 L384.1,607.1 L384.0,606.2 L383.9,605.4 L383.8,604.5 L383.6,603.6 L383.5,602.8 L383.3,601.9 L383.2,601.1 L383.0,600.2 L382.8,599.4 L382.6,598.5 L382.4,597.6 L382.2,596.8 L382.0,595.9 L381.8,595.1 L381.6,594.2 L381.3,593.3 L381.1,592.5 L380.9,591.6 L380.7,590.8 L380.5,589.9 L380.3,589.1 L380.2,588.2 L380.1,587.3 L380.1,586.5 L380.1,585.6 L380.2,584.8 L380.3,583.9 L380.4,583.0 L380.5,582.2 L380.6,581.3 L380.7,580.5 L380.8,579.6 L380.9,578.8 L381.0,577.9 L381.1,577.0 L381.2,576.2 L381.2,575.3 L381.2,574.5 L381.2,573.6 L381.2,572.7 L381.1,571.9 L380.9,571.0 L380.8,570.2 L380.7,569.3 L380.5,568.5 L380.4,567.6 L380.3,566.7 L380.2,565.9 L380.1,565.0 L380.0,564.2 L379.9,563.3 L379.9,562.4 L379.9,561.6 L379.9,560.7 L380.0,559.9 L380.1,559.0 L380.3,558.2 L380.5,557.3 L380.7,556.4 L380.8,555.6 L381.0,554.7 L381.1,553.9 L381.3,553.0 L381.5,552.1 L381.6,551.3 L381.8,550.4 L382.0,549.6 L382.1,548.7 L382.3,547.9 L382.5,547.0 L382.6,546.1 L382.8,545.3 L382.9,544.4 L383.1,543.6 L383.2,542.7 L383.4,541.8 L383.5,541.0 L383.6,540.1 L383.8,539.3 L383.9,538.4 L384.0,537.6 L384.1,536.7 L384.2,535.8 L384.3,535.0 L384.4,534.1 L384.4,534.1 L384.4,535.0 L384.5,535.8 L384.6,536.7 L384.7,537.6 L384.8,538.4 L384.9,539.3 L385.1,540.1 L385.2,541.0 L385.3,541.8 L385.5,542.7 L385.6,543.6 L385.8,544.4 L385.9,545.3 L386.1,546.1 L386.2,547.0 L386.4,547.9 L386.6,548.7 L386.7,549.6 L386.9,550.4 L387.1,551.3 L387.2,552.1 L387.4,553.0 L387.6,553.9 L387.7,554.7 L387.9,555.6 L388.0,556.4 L388.2,557.3 L388.4,558.2 L388.6,559.0 L388.7,559.9 L388.8,560.7 L388.8,561.6 L388.8,562.4 L388.8,563.3 L388.7,564.2 L388.6,565.0 L388.5,565.9 L388.4,566.7 L388.3,567.6 L388.2,568.5 L388.0,569.3 L387.9,570.2 L387.8,571.0 L387.6,571.9 L387.5,572.7 L387.5,573.6 L387.5,574.5 L387.5,575.3 L387.5,576.2 L387.6,577.0 L387.7,577.9 L387.8,578.8 L387.9,579.6 L388.0,580.5 L388.1,581.3 L388.2,582.2 L388.3,583.0 L388.4,583.9 L388.5,584.8 L388.6,585.6 L388.6,586.5 L388.6,587.3 L388.5,588.2 L388.4,589.1 L388.2,589.9 L388.0,590.8 L387.8,591.6 L387.6,592.5 L387.4,593.3 L387.1,594.2 L386.9,595.1 L386.7,595.9 L386.5,596.8 L386.3,597.6 L386.1,598.5 L385.9,599.4 L385.7,600.2 L385.5,601.1 L385.4,601.9 L385.2,602.8 L385.1,603.6 L384.9,604.5 L384.8,605.4 L384.7,606.2 L384.6,607.1 L384.5,607.9 L384.4,608.8 L384.4,609.6 L384.4,610.5Z" fill="none" stroke="#2c3488" stroke-width="0.6" stroke-linejoin="round"/>
<line x1="380.55" y1="561.9" x2="388.15" y2="561.9" stroke="#2a3386" stroke-width="1.3"/>
<line x1="380.75" y1="586.7" x2="387.95" y2="586.7" stroke="#2a3386" stroke-width="1.4"/>
<line x1="381.45" y1="574.3" x2="387.25" y2="574.3" stroke="#cf3a2e" stroke-width="0.9"/>
<circle cx="383.15" cy="561.9" r="1.45" fill="none" stroke="#2a3184" stroke-width="0.6"/>
<circle cx="385.55" cy="561.9" r="1.45" fill="none" stroke="#2a3184" stroke-width="0.6"/>
<circle cx="383.15" cy="586.7" r="1.45" fill="none" stroke="#2a3184" stroke-width="0.6"/>
<circle cx="385.55" cy="586.7" r="1.45" fill="none" stroke="#2a3184" stroke-width="0.6"/>
<path d="M395.9,599.1 L395.8,598.6 L395.7,598.1 L395.6,597.6 L395.5,597.2 L395.4,596.7 L395.2,596.2 L395.1,595.7 L394.9,595.2 L394.7,594.7 L394.6,594.3 L394.4,593.8 L394.2,593.3 L394.0,592.8 L393.7,592.3 L393.5,591.8 L393.3,591.3 L393.0,590.9 L392.8,590.4 L392.6,589.9 L392.4,589.4 L392.2,588.9 L392.1,588.4 L391.9,587.9 L391.8,587.5 L391.7,587.0 L391.7,586.5 L391.7,586.0 L391.7,585.5 L391.8,585.0 L391.8,584.6 L391.9,584.1 L391.9,583.6 L392.0,583.1 L392.0,582.6 L392.0,582.1 L392.0,581.6 L392.0,581.2 L392.1,580.7 L392.1,580.2 L392.1,579.7 L392.1,579.2 L392.1,578.7 L392.1,578.3 L392.1,577.8 L392.1,577.3 L392.1,576.8 L392.1,576.3 L392.1,575.8 L392.1,575.3 L392.0,574.9 L392.0,574.4 L392.0,573.9 L392.0,573.4 L392.0,572.9 L392.0,572.4 L391.9,571.9 L391.9,571.5 L391.8,571.0 L391.8,570.5 L391.7,570.0 L391.7,569.5 L391.7,569.0 L391.7,568.6 L391.8,568.1 L391.9,567.6 L392.0,567.1 L392.2,566.6 L392.3,566.1 L392.5,565.6 L392.6,565.2 L392.9,564.7 L393.1,564.2 L393.3,563.7 L393.5,563.2 L393.8,562.7 L394.0,562.3 L394.1,561.8 L394.3,561.3 L394.5,560.8 L394.7,560.3 L394.8,559.8 L395.0,559.3 L395.1,558.9 L395.3,558.4 L395.4,557.9 L395.5,557.4 L395.7,556.9 L395.8,556.4 L395.9,555.9 L395.9,555.9 L396.0,556.4 L396.1,556.9 L396.3,557.4 L396.4,557.9 L396.5,558.4 L396.7,558.9 L396.8,559.3 L397.0,559.8 L397.1,560.3 L397.3,560.8 L397.5,561.3 L397.7,561.8 L397.8,562.3 L398.0,562.7 L398.3,563.2 L398.5,563.7 L398.7,564.2 L398.9,564.7 L399.2,565.2 L399.3,565.6 L399.5,566.1 L399.6,566.6 L399.8,567.1 L399.9,567.6 L400.0,568.1 L400.1,568.6 L400.1,569.0 L400.1,569.5 L400.1,570.0 L400.0,570.5 L400.0,571.0 L399.9,571.5 L399.9,571.9 L399.8,572.4 L399.8,572.9 L399.8,573.4 L399.8,573.9 L399.8,574.4 L399.8,574.9 L399.7,575.3 L399.7,575.8 L399.7,576.3 L399.7,576.8 L399.7,577.3 L399.7,577.8 L399.7,578.3 L399.7,578.7 L399.7,579.2 L399.7,579.7 L399.7,580.2 L399.7,580.7 L399.8,581.2 L399.8,581.6 L399.8,582.1 L399.8,582.6 L399.8,583.1 L399.9,583.6 L399.9,584.1 L400.0,584.6 L400.0,585.0 L400.1,585.5 L400.1,586.0 L400.1,586.5 L400.1,587.0 L400.0,587.5 L399.9,587.9 L399.7,588.4 L399.6,588.9 L399.4,589.4 L399.2,589.9 L399.0,590.4 L398.8,590.9 L398.5,591.3 L398.3,591.8 L398.1,592.3 L397.8,592.8 L397.6,593.3 L397.4,593.8 L397.2,594.3 L397.1,594.7 L396.9,595.2 L396.7,595.7 L396.6,596.2 L396.4,596.7 L396.3,597.2 L396.2,597.6 L396.1,598.1 L396.0,598.6 L395.9,599.1Z" fill="none" stroke="#2c3488" stroke-width="0.6" stroke-linejoin="round"/>
<line x1="392.3" y1="568.84" x2="399.5" y2="568.84" stroke="#2a3386" stroke-width="1.3"/>
<line x1="392.3" y1="586.7" x2="399.5" y2="586.7" stroke="#2a3386" stroke-width="1.4"/>
<line x1="392.6" y1="577.77" x2="399.2" y2="577.77" stroke="#cf3a2e" stroke-width="0.9"/>
<circle cx="394.9" cy="568.84" r="1.45" fill="none" stroke="#2a3184" stroke-width="0.6"/>
<circle cx="396.9" cy="568.84" r="1.45" fill="none" stroke="#2a3184" stroke-width="0.6"/>
<circle cx="395.9" cy="577.77" r="1.45" fill="none" stroke="#2a3184" stroke-width="0.6"/>
<circle cx="394.9" cy="586.7" r="1.45" fill="none" stroke="#2a3184" stroke-width="0.6"/>
<circle cx="396.9" cy="586.7" r="1.45" fill="none" stroke="#2a3184" stroke-width="0.6"/>
<path d="M407.4,599.1 L407.4,598.5 L407.3,597.9 L407.2,597.2 L407.1,596.6 L407.0,596.0 L406.9,595.4 L406.8,594.7 L406.7,594.1 L406.6,593.5 L406.5,592.9 L406.4,592.2 L406.3,591.6 L406.1,591.0 L406.0,590.4 L405.9,589.7 L405.8,589.1 L405.7,588.5 L405.5,587.9 L405.4,587.2 L405.3,586.6 L405.2,586.0 L405.1,585.4 L405.0,584.7 L404.9,584.1 L404.9,583.5 L404.9,582.9 L404.9,582.2 L404.9,581.6 L405.0,581.0 L405.1,580.4 L405.2,579.8 L405.2,579.1 L405.3,578.5 L405.4,577.9 L405.4,577.3 L405.4,576.6 L405.4,576.0 L405.3,575.4 L405.2,574.8 L405.1,574.1 L404.9,573.5 L404.8,572.9 L404.6,572.3 L404.5,571.6 L404.4,571.0 L404.2,570.4 L404.0,569.8 L403.9,569.1 L403.7,568.5 L403.7,567.9 L403.6,567.3 L403.5,566.6 L403.5,566.0 L403.4,565.4 L403.4,564.8 L403.4,564.1 L403.3,563.5 L403.3,562.9 L403.3,562.3 L403.3,561.6 L403.3,561.0 L403.3,560.4 L403.4,559.8 L403.5,559.2 L403.7,558.5 L404.0,557.9 L404.2,557.3 L404.4,556.7 L404.6,556.0 L404.8,555.4 L405.0,554.8 L405.2,554.2 L405.4,553.5 L405.6,552.9 L405.8,552.3 L405.9,551.7 L406.1,551.0 L406.3,550.4 L406.4,549.8 L406.5,549.2 L406.7,548.5 L406.8,547.9 L406.9,547.3 L407.0,546.7 L407.1,546.0 L407.2,545.4 L407.3,544.8 L407.4,544.2 L407.4,543.5 L407.4,543.5 L407.5,544.2 L407.6,544.8 L407.7,545.4 L407.8,546.0 L407.9,546.7 L408.0,547.3 L408.1,547.9 L408.2,548.5 L408.4,549.2 L408.5,549.8 L408.6,550.4 L408.8,551.0 L409.0,551.7 L409.1,552.3 L409.3,552.9 L409.5,553.5 L409.7,554.2 L409.9,554.8 L410.1,555.4 L410.3,556.0 L410.5,556.7 L410.7,557.3 L410.9,557.9 L411.2,558.5 L411.4,559.2 L411.5,559.8 L411.6,560.4 L411.6,561.0 L411.6,561.6 L411.6,562.3 L411.6,562.9 L411.6,563.5 L411.5,564.1 L411.5,564.8 L411.5,565.4 L411.4,566.0 L411.4,566.6 L411.3,567.3 L411.2,567.9 L411.2,568.5 L411.0,569.1 L410.9,569.8 L410.7,570.4 L410.5,571.0 L410.4,571.6 L410.3,572.3 L410.1,572.9 L410.0,573.5 L409.8,574.1 L409.7,574.8 L409.6,575.4 L409.5,576.0 L409.5,576.6 L409.5,577.3 L409.5,577.9 L409.6,578.5 L409.7,579.1 L409.7,579.8 L409.8,580.4 L409.9,581.0 L410.0,581.6 L410.0,582.2 L410.0,582.9 L410.0,583.5 L410.0,584.1 L409.9,584.7 L409.8,585.4 L409.7,586.0 L409.6,586.6 L409.5,587.2 L409.4,587.9 L409.2,588.5 L409.1,589.1 L409.0,589.7 L408.9,590.4 L408.8,591.0 L408.6,591.6 L408.5,592.2 L408.4,592.9 L408.3,593.5 L408.2,594.1 L408.1,594.7 L408.0,595.4 L407.9,596.0 L407.8,596.6 L407.7,597.2 L407.6,597.9 L407.5,598.5 L407.4,599.1Z" fill="none" stroke="#2c3488" stroke-width="0.6" stroke-linejoin="round"/>
<line x1="403.85" y1="560.91" x2="411.05" y2="560.91" stroke="#2a3386" stroke-width="1.3"/>
<line x1="405.25" y1="582.73" x2="409.65" y2="582.73" stroke="#6a72a8" stroke-width="0.7"/>
<line x1="404.15" y1="567.85" x2="410.75" y2="567.85" stroke="#cf3a2e" stroke-width="0.9"/>
<circle cx="406.65" cy="560.91" r="1.45" fill="none" stroke="#2a3184" stroke-width="0.6"/>
<circle cx="408.25" cy="560.91" r="1.45" fill="none" stroke="#2a3184" stroke-width="0.6"/>
<circle cx="407.45" cy="567.85" r="1.45" fill="none" stroke="#2a3184" stroke-width="0.6"/>
<circle cx="407.45" cy="582.73" r="1.45" fill="none" stroke="#2a3184" stroke-width="0.6"/>
<line x1="414.6" y1="586.1" x2="423.4" y2="586.1" stroke="#3a3f7c" stroke-width="1.0"/>
<circle cx="416.5" cy="586.1" r="1.45" fill="none" stroke="#2a3184" stroke-width="0.7"/>
<circle cx="417.1" cy="586.1" r="1.45" fill="none" stroke="#2a3184" stroke-width="0.7"/>
<circle cx="420.9" cy="586.1" r="1.45" fill="none" stroke="#2a3184" stroke-width="0.7"/>
<circle cx="421.5" cy="586.1" r="1.45" fill="none" stroke="#2a3184" stroke-width="0.7"/>
<line x1="426.15" y1="586.7" x2="434.95" y2="586.7" stroke="#9b9db2" stroke-width="0.8"/>
<circle cx="428.25" cy="586.7" r="1.45" fill="none" stroke="#6f7296" stroke-width="0.65"/>
<circle cx="432.85" cy="586.7" r="1.45" fill="none" stroke="#6f7296" stroke-width="0.65"/>
<line x1="438.1" y1="586.7" x2="446.1" y2="586.7" stroke="#9b9db2" stroke-width="0.8"/>
<circle cx="442.1" cy="586.7" r="1.45" fill="none" stroke="#6f7296" stroke-width="0.65"/>
<line x1="449.65" y1="578.76" x2="457.65" y2="578.76" stroke="#9b9db2" stroke-width="0.8"/>
<circle cx="453.65" cy="578.76" r="1.45" fill="none" stroke="#6f7296" stroke-width="0.65"/>
<line x1="461.2" y1="583.23" x2="469.2" y2="583.23" stroke="#9b9db2" stroke-width="0.8"/>
<circle cx="465.2" cy="583.23" r="1.45" fill="none" stroke="#6f7296" stroke-width="0.65"/>
<line x1="472.75" y1="586.7" x2="480.75" y2="586.7" stroke="#9b9db2" stroke-width="0.8"/>
<circle cx="476.75" cy="586.7" r="1.45" fill="none" stroke="#6f7296" stroke-width="0.65"/>
<line x1="484.3" y1="559.92" x2="492.3" y2="559.92" stroke="#9b9db2" stroke-width="0.8"/>
<circle cx="488.3" cy="559.92" r="1.45" fill="none" stroke="#6f7296" stroke-width="0.65"/>
<line x1="495.85" y1="586.7" x2="503.85" y2="586.7" stroke="#9b9db2" stroke-width="0.8"/>
<circle cx="499.85" cy="586.7" r="1.45" fill="none" stroke="#6f7296" stroke-width="0.65"/>
<line x1="507.4" y1="585.21" x2="515.4" y2="585.21" stroke="#9b9db2" stroke-width="0.8"/>
<circle cx="511.4" cy="585.21" r="1.45" fill="none" stroke="#6f7296" stroke-width="0.65"/>
<line x1="303.6" y1="487.8" x2="317.2" y2="487.8" stroke="#1c1a1c" stroke-width="0.8"/>
<text x="310.4" y="488.2" font-size="8.0" text-anchor="middle">**</text>
<line x1="295.4" y1="487.2" x2="295.4" y2="611.8" stroke="#1c1a1c" stroke-width="0.9"/>
<line x1="294.95" y1="611.8" x2="518.5" y2="611.8" stroke="#1c1a1c" stroke-width="0.9"/>
<line x1="293" y1="611.5" x2="295.4" y2="611.5" stroke="#1c1a1c" stroke-width="0.6"/>
<text x="291.4" y="614.15" font-size="7.5" text-anchor="end">−25</text>
<line x1="294" y1="599.1" x2="295.4" y2="599.1" stroke="#1c1a1c" stroke-width="0.55"/>
<line x1="293" y1="586.7" x2="295.4" y2="586.7" stroke="#1c1a1c" stroke-width="0.6"/>
<text x="291.4" y="589.35" font-size="7.5" text-anchor="end">0</text>
<line x1="294" y1="574.3" x2="295.4" y2="574.3" stroke="#1c1a1c" stroke-width="0.55"/>
<line x1="293" y1="561.9" x2="295.4" y2="561.9" stroke="#1c1a1c" stroke-width="0.6"/>
<text x="291.4" y="564.55" font-size="7.5" text-anchor="end">25</text>
<line x1="294" y1="549.5" x2="295.4" y2="549.5" stroke="#1c1a1c" stroke-width="0.55"/>
<line x1="293" y1="537.1" x2="295.4" y2="537.1" stroke="#1c1a1c" stroke-width="0.6"/>
<text x="291.4" y="539.75" font-size="7.5" text-anchor="end">50</text>
<line x1="294" y1="524.7" x2="295.4" y2="524.7" stroke="#1c1a1c" stroke-width="0.55"/>
<line x1="293" y1="512.3" x2="295.4" y2="512.3" stroke="#1c1a1c" stroke-width="0.6"/>
<text x="291.4" y="514.95" font-size="7.5" text-anchor="end">75</text>
<line x1="294" y1="499.9" x2="295.4" y2="499.9" stroke="#1c1a1c" stroke-width="0.55"/>
<line x1="293" y1="487.5" x2="295.4" y2="487.5" stroke="#1c1a1c" stroke-width="0.6"/>
<text x="291.4" y="490.15" font-size="7.5" text-anchor="end">100</text>
<line x1="303.5" y1="611.8" x2="303.5" y2="614.2" stroke="#1c1a1c" stroke-width="0.6"/>
<text x="305.2" y="619.6" font-size="7.45" text-anchor="end" transform="rotate(-44 305.2 619.6)">ALK</text>
<line x1="315.05" y1="611.8" x2="315.05" y2="614.2" stroke="#1c1a1c" stroke-width="0.6"/>
<text x="316.75" y="619.6" font-size="7.45" text-anchor="end" font-style="italic" transform="rotate(-44 316.75 619.6)">TP53</text>
<line x1="326.6" y1="611.8" x2="326.6" y2="614.2" stroke="#1c1a1c" stroke-width="0.6"/>
<text x="328.3" y="619.6" font-size="7.45" text-anchor="end" font-style="italic" transform="rotate(-44 328.3 619.6)">BRAF</text>
<line x1="338.15" y1="611.8" x2="338.15" y2="614.2" stroke="#1c1a1c" stroke-width="0.6"/>
<text x="339.85" y="619.6" font-size="7.45" text-anchor="end" font-style="italic" transform="rotate(-44 339.85 619.6)">ERBB2</text>
<line x1="349.7" y1="611.8" x2="349.7" y2="614.2" stroke="#1c1a1c" stroke-width="0.6"/>
<text x="351.4" y="619.6" font-size="7.45" text-anchor="end" font-style="italic" transform="rotate(-44 351.4 619.6)">NF1</text>
<line x1="361.25" y1="611.8" x2="361.25" y2="614.2" stroke="#1c1a1c" stroke-width="0.6"/>
<text x="362.95" y="619.6" font-size="7.45" text-anchor="end" font-style="italic" transform="rotate(-44 362.95 619.6)">BRCA2</text>
<line x1="372.8" y1="611.8" x2="372.8" y2="614.2" stroke="#1c1a1c" stroke-width="0.6"/>
<text x="374.5" y="619.6" font-size="7.45" text-anchor="end" font-style="italic" transform="rotate(-44 374.5 619.6)">NRAS</text>
<line x1="384.35" y1="611.8" x2="384.35" y2="614.2" stroke="#1c1a1c" stroke-width="0.6"/>
<text x="386.05" y="619.6" font-size="7.45" text-anchor="end" font-style="italic" transform="rotate(-44 386.05 619.6)">CDKN2A</text>
<line x1="395.9" y1="611.8" x2="395.9" y2="614.2" stroke="#1c1a1c" stroke-width="0.6"/>
<text x="397.6" y="619.6" font-size="7.45" text-anchor="end" font-style="italic" transform="rotate(-44 397.6 619.6)">PTPN11</text>
<line x1="407.45" y1="611.8" x2="407.45" y2="614.2" stroke="#1c1a1c" stroke-width="0.6"/>
<text x="409.15" y="619.6" font-size="7.45" text-anchor="end" font-style="italic" transform="rotate(-44 409.15 619.6)">TERT</text>
<line x1="419" y1="611.8" x2="419" y2="614.2" stroke="#1c1a1c" stroke-width="0.6"/>
<text x="420.7" y="619.6" font-size="7.45" text-anchor="end" font-style="italic" transform="rotate(-44 420.7 619.6)">ERRFI1</text>
<line x1="430.55" y1="611.8" x2="430.55" y2="614.2" stroke="#1c1a1c" stroke-width="0.6"/>
<text x="432.25" y="619.6" font-size="7.45" text-anchor="end" font-style="italic" transform="rotate(-44 432.25 619.6)">FGFR1</text>
<line x1="442.1" y1="611.8" x2="442.1" y2="614.2" stroke="#1c1a1c" stroke-width="0.6"/>
<text x="443.8" y="619.6" font-size="7.45" text-anchor="end" font-style="italic" transform="rotate(-44 443.8 619.6)">ABL1</text>
<line x1="453.65" y1="611.8" x2="453.65" y2="614.2" stroke="#1c1a1c" stroke-width="0.6"/>
<text x="455.35" y="619.6" font-size="7.45" text-anchor="end" font-style="italic" transform="rotate(-44 455.35 619.6)">BRCA1</text>
<line x1="465.2" y1="611.8" x2="465.2" y2="614.2" stroke="#1c1a1c" stroke-width="0.6"/>
<text x="466.9" y="619.6" font-size="7.45" text-anchor="end" font-style="italic" transform="rotate(-44 466.9 619.6)">CDH1</text>
<line x1="476.75" y1="611.8" x2="476.75" y2="614.2" stroke="#1c1a1c" stroke-width="0.6"/>
<text x="478.45" y="619.6" font-size="7.45" text-anchor="end" font-style="italic" transform="rotate(-44 478.45 619.6)">FLT3</text>
<line x1="488.3" y1="611.8" x2="488.3" y2="614.2" stroke="#1c1a1c" stroke-width="0.6"/>
<text x="490" y="619.6" font-size="7.45" text-anchor="end" font-style="italic" transform="rotate(-44 490 619.6)">KIT</text>
<line x1="499.85" y1="611.8" x2="499.85" y2="614.2" stroke="#1c1a1c" stroke-width="0.6"/>
<text x="501.55" y="619.6" font-size="7.45" text-anchor="end" font-style="italic" transform="rotate(-44 501.55 619.6)">PIK3CA</text>
<line x1="511.4" y1="611.8" x2="511.4" y2="614.2" stroke="#1c1a1c" stroke-width="0.6"/>
<text x="513.1" y="619.6" font-size="7.45" text-anchor="end" font-style="italic" transform="rotate(-44 513.1 619.6)">PTEN</text>
<text x="278" y="548" font-size="7.4" text-anchor="middle" transform="rotate(-90 278 548)">ctDNA MAF (%)</text>
</g>
</svg>
</body>
</html>
